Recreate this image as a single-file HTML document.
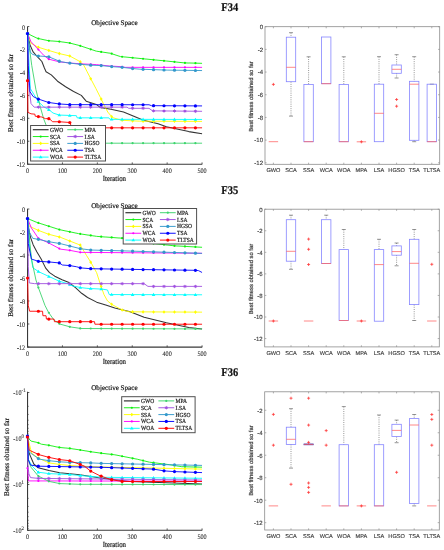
<!DOCTYPE html>
<html><head><meta charset="utf-8"><style>
html,body{margin:0;padding:0;background:#fff;}
body{width:444px;height:550px;overflow:hidden;}
svg{display:block;text-rendering:geometricPrecision;} text{stroke:currentColor;stroke-width:0.18;} text.s{stroke-width:0.14;} text.t{stroke-width:0.1;}
</style></head><body>
<svg width="444" height="550" viewBox="0 0 444 550">
<defs><filter id="bl" x="0" y="0" width="444" height="550" filterUnits="userSpaceOnUse"><feGaussianBlur stdDeviation="0.35"/></filter></defs>
<rect width="444" height="550" fill="#fff"/>
<g filter="url(#bl)">
<path d="M27.55 26.5 L27.55 164.2 L202.25 164.2" fill="none" stroke="#383838" stroke-width="1.1"/>
<line x1="27.55" y1="164.2" x2="27.55" y2="162.39999999999998" stroke="#383838" stroke-width="0.8"/>
<text transform="translate(27.55 173.30) scale(1 1.12)" font-family="Liberation Serif" class="t" font-size="6.2" text-anchor="middle" fill="#333" color="#333">0</text>
<line x1="62.45" y1="164.2" x2="62.45" y2="162.39999999999998" stroke="#383838" stroke-width="0.8"/>
<text transform="translate(62.45 173.30) scale(1 1.12)" font-family="Liberation Serif" class="t" font-size="6.2" text-anchor="middle" fill="#333" color="#333">100</text>
<line x1="97.35" y1="164.2" x2="97.35" y2="162.39999999999998" stroke="#383838" stroke-width="0.8"/>
<text transform="translate(97.35 173.30) scale(1 1.12)" font-family="Liberation Serif" class="t" font-size="6.2" text-anchor="middle" fill="#333" color="#333">200</text>
<line x1="132.25" y1="164.2" x2="132.25" y2="162.39999999999998" stroke="#383838" stroke-width="0.8"/>
<text transform="translate(132.25 173.30) scale(1 1.12)" font-family="Liberation Serif" class="t" font-size="6.2" text-anchor="middle" fill="#333" color="#333">300</text>
<line x1="167.15" y1="164.2" x2="167.15" y2="162.39999999999998" stroke="#383838" stroke-width="0.8"/>
<text transform="translate(167.15 173.30) scale(1 1.12)" font-family="Liberation Serif" class="t" font-size="6.2" text-anchor="middle" fill="#333" color="#333">400</text>
<line x1="202.05" y1="164.2" x2="202.05" y2="162.39999999999998" stroke="#383838" stroke-width="0.8"/>
<text transform="translate(202.05 173.30) scale(1 1.12)" font-family="Liberation Serif" class="t" font-size="6.2" text-anchor="middle" fill="#333" color="#333">500</text>
<line x1="27.55" y1="26.50" x2="29.35" y2="26.50" stroke="#383838" stroke-width="0.8"/>
<text transform="translate(25.2 29.50) scale(1 1.12)" font-family="Liberation Serif" class="t" font-size="6.2" text-anchor="end" fill="#333" color="#333">0</text>
<line x1="27.55" y1="49.45" x2="29.35" y2="49.45" stroke="#383838" stroke-width="0.8"/>
<text transform="translate(25.2 52.45) scale(1 1.12)" font-family="Liberation Serif" class="t" font-size="6.2" text-anchor="end" fill="#333" color="#333">-2</text>
<line x1="27.55" y1="72.40" x2="29.35" y2="72.40" stroke="#383838" stroke-width="0.8"/>
<text transform="translate(25.2 75.40) scale(1 1.12)" font-family="Liberation Serif" class="t" font-size="6.2" text-anchor="end" fill="#333" color="#333">-4</text>
<line x1="27.55" y1="95.35" x2="29.35" y2="95.35" stroke="#383838" stroke-width="0.8"/>
<text transform="translate(25.2 98.35) scale(1 1.12)" font-family="Liberation Serif" class="t" font-size="6.2" text-anchor="end" fill="#333" color="#333">-6</text>
<line x1="27.55" y1="118.30" x2="29.35" y2="118.30" stroke="#383838" stroke-width="0.8"/>
<text transform="translate(25.2 121.30) scale(1 1.12)" font-family="Liberation Serif" class="t" font-size="6.2" text-anchor="end" fill="#333" color="#333">-8</text>
<line x1="27.55" y1="141.25" x2="29.35" y2="141.25" stroke="#383838" stroke-width="0.8"/>
<text transform="translate(25.2 144.25) scale(1 1.12)" font-family="Liberation Serif" class="t" font-size="6.2" text-anchor="end" fill="#333" color="#333">-10</text>
<line x1="27.55" y1="164.20" x2="29.35" y2="164.20" stroke="#383838" stroke-width="0.8"/>
<text transform="translate(25.2 167.20) scale(1 1.12)" font-family="Liberation Serif" class="t" font-size="6.2" text-anchor="end" fill="#333" color="#333">-12</text>
<text transform="translate(114.4 181.10) scale(1 1.12)" font-family="Liberation Serif" font-size="6.9" text-anchor="middle" fill="#222" color="#222">Iteration</text>
<text x="114.4" y="24.80" font-family="Liberation Serif" font-size="7.1" text-anchor="middle" fill="#111" color="#111">Objective Space</text>
<text transform="translate(12.6 93.00) rotate(-90)" font-family="Liberation Serif" font-size="7.2" text-anchor="middle" fill="#222" color="#222">Best fitness obtained so far</text>
<path d="M27.55 33.61 L29.99 44.86 L33.13 51.97 L38.02 57.48 L41.86 61.50 L44.30 67.81 L46.05 71.71 L51.28 74.92 L57.56 81.24 L65.59 86.74 L73.62 91.45 L81.30 95.35 L86.18 101.20 L96.30 104.42 L100.14 107.40 L110.96 109.35 L123.52 112.10 L132.60 115.66 L143.42 120.25 L158.08 123.81 L166.45 126.68 L188.79 131.61 L202.05 133.79" fill="none" stroke="#333333" stroke-width="1.05" stroke-linejoin="round"/>
<path d="M27.55 33.61 L37.32 38.32 L48.49 40.73 L59.31 41.53 L69.78 43.02 L79.90 45.66 L96.30 51.17 L110.26 53.24 L120.38 56.56 L144.12 58.86 L166.45 61.04 L184.25 62.88 L202.05 63.33" fill="none" stroke="#10f010" stroke-width="0.9" stroke-linejoin="round"/><circle cx="27.55" cy="33.61" r="1.1" fill="#10f010"/><circle cx="38.37" cy="38.55" r="1.1" fill="#10f010"/><circle cx="48.84" cy="40.75" r="1.1" fill="#10f010"/><circle cx="59.31" cy="41.53" r="1.1" fill="#10f010"/><circle cx="69.78" cy="43.02" r="1.1" fill="#10f010"/><circle cx="80.25" cy="45.78" r="1.1" fill="#10f010"/><circle cx="90.72" cy="49.30" r="1.1" fill="#10f010"/><circle cx="101.19" cy="51.89" r="1.1" fill="#10f010"/><circle cx="111.66" cy="53.70" r="1.1" fill="#10f010"/><circle cx="122.13" cy="56.73" r="1.1" fill="#10f010"/><circle cx="132.60" cy="57.75" r="1.1" fill="#10f010"/><circle cx="143.07" cy="58.76" r="1.1" fill="#10f010"/><circle cx="153.54" cy="59.78" r="1.1" fill="#10f010"/><circle cx="164.01" cy="60.80" r="1.1" fill="#10f010"/><circle cx="174.48" cy="61.87" r="1.1" fill="#10f010"/><circle cx="184.95" cy="62.89" r="1.1" fill="#10f010"/><circle cx="195.42" cy="63.16" r="1.1" fill="#10f010"/>
<path d="M27.55 33.61 L31.04 43.37 L38.37 47.27 L48.49 50.37 L59.31 53.58 L69.78 55.99 L79.90 61.50 L83.74 65.17 L86.88 71.25 L90.72 78.71 L95.95 88.58 L100.49 97.64 L103.98 104.87 L107.82 112.10 L112.36 117.50 L121.43 120.25 L139.23 121.17 L202.05 121.40" fill="none" stroke="#ffff00" stroke-width="0.9" stroke-linejoin="round"/><path d="M27.55 31.81L28.99 33.61L27.55 35.41L26.11 33.61Z" fill="#ffff00"/><path d="M38.37 45.47L39.81 47.27L38.37 49.07L36.93 47.27Z" fill="#ffff00"/><path d="M48.84 48.67L50.28 50.47L48.84 52.27L47.40 50.47Z" fill="#ffff00"/><path d="M59.31 51.78L60.75 53.58L59.31 55.38L57.87 53.58Z" fill="#ffff00"/><path d="M69.78 54.19L71.22 55.99L69.78 57.79L68.34 55.99Z" fill="#ffff00"/><path d="M80.25 60.03L81.69 61.83L80.25 63.63L78.81 61.83Z" fill="#ffff00"/><path d="M90.72 76.91L92.16 78.71L90.72 80.51L89.28 78.71Z" fill="#ffff00"/><path d="M101.19 97.29L102.63 99.09L101.19 100.89L99.75 99.09Z" fill="#ffff00"/><path d="M111.66 114.87L113.10 116.67L111.66 118.47L110.22 116.67Z" fill="#ffff00"/><path d="M122.13 118.49L123.57 120.29L122.13 122.09L120.69 120.29Z" fill="#ffff00"/><path d="M132.60 119.03L134.04 120.83L132.60 122.63L131.16 120.83Z" fill="#ffff00"/><path d="M143.07 119.38L144.51 121.18L143.07 122.98L141.63 121.18Z" fill="#ffff00"/><path d="M153.54 119.42L154.98 121.22L153.54 123.02L152.10 121.22Z" fill="#ffff00"/><path d="M164.01 119.46L165.45 121.26L164.01 123.06L162.57 121.26Z" fill="#ffff00"/><path d="M174.48 119.50L175.92 121.30L174.48 123.10L173.04 121.30Z" fill="#ffff00"/><path d="M184.95 119.54L186.39 121.34L184.95 123.14L183.51 121.34Z" fill="#ffff00"/><path d="M195.42 119.57L196.86 121.37L195.42 123.17L193.98 121.37Z" fill="#ffff00"/>
<path d="M27.55 33.61 L31.04 41.76 L38.37 49.56 L43.60 55.19 L48.49 59.09 L59.31 61.84 L69.78 62.99 L79.90 63.79 L96.30 64.60 L110.26 66.09 L121.78 66.66 L125.27 67.35 L202.05 67.35" fill="none" stroke="#ff00ff" stroke-width="0.9" stroke-linejoin="round"/><circle cx="27.55" cy="33.61" r="1.1" fill="#ff00ff"/><circle cx="38.37" cy="49.56" r="1.1" fill="#ff00ff"/><circle cx="48.84" cy="59.18" r="1.1" fill="#ff00ff"/><circle cx="59.31" cy="61.84" r="1.1" fill="#ff00ff"/><circle cx="69.78" cy="62.99" r="1.1" fill="#ff00ff"/><circle cx="80.25" cy="63.81" r="1.1" fill="#ff00ff"/><circle cx="90.72" cy="64.32" r="1.1" fill="#ff00ff"/><circle cx="101.19" cy="65.12" r="1.1" fill="#ff00ff"/><circle cx="111.66" cy="66.16" r="1.1" fill="#ff00ff"/><circle cx="122.13" cy="66.73" r="1.1" fill="#ff00ff"/><circle cx="132.60" cy="67.35" r="1.1" fill="#ff00ff"/><circle cx="143.07" cy="67.35" r="1.1" fill="#ff00ff"/><circle cx="153.54" cy="67.35" r="1.1" fill="#ff00ff"/><circle cx="164.01" cy="67.35" r="1.1" fill="#ff00ff"/><circle cx="174.48" cy="67.35" r="1.1" fill="#ff00ff"/><circle cx="184.95" cy="67.35" r="1.1" fill="#ff00ff"/><circle cx="195.42" cy="67.35" r="1.1" fill="#ff00ff"/>
<path d="M27.55 33.61 L30.34 88.58 L34.18 94.89 L38.02 101.20 L43.60 106.71 L49.19 109.92 L53.03 113.02 L59.31 115.09 L76.41 115.66 L77.11 117.84 L108.87 117.84 L109.91 119.33 L202.05 119.45" fill="none" stroke="#00ffff" stroke-width="0.9" stroke-linejoin="round"/><path d="M27.55 31.81L29.35 34.87L25.75 34.87Z" fill="#00ffff"/><path d="M38.37 99.75L40.17 102.81L36.57 102.81Z" fill="#00ffff"/><path d="M48.84 107.92L50.64 110.98L47.04 110.98Z" fill="#00ffff"/><path d="M59.31 113.29L61.11 116.35L57.51 116.35Z" fill="#00ffff"/><path d="M69.78 113.64L71.58 116.70L67.98 116.70Z" fill="#00ffff"/><path d="M80.25 116.04L82.05 119.10L78.45 119.10Z" fill="#00ffff"/><path d="M90.72 116.04L92.52 119.10L88.92 119.10Z" fill="#00ffff"/><path d="M101.19 116.04L102.99 119.10L99.39 119.10Z" fill="#00ffff"/><path d="M111.66 117.53L113.46 120.59L109.86 120.59Z" fill="#00ffff"/><path d="M122.13 117.55L123.93 120.61L120.33 120.61Z" fill="#00ffff"/><path d="M132.60 117.56L134.40 120.62L130.80 120.62Z" fill="#00ffff"/><path d="M143.07 117.57L144.87 120.63L141.27 120.63Z" fill="#00ffff"/><path d="M153.54 117.59L155.34 120.65L151.74 120.65Z" fill="#00ffff"/><path d="M164.01 117.60L165.81 120.66L162.21 120.66Z" fill="#00ffff"/><path d="M174.48 117.61L176.28 120.67L172.68 120.67Z" fill="#00ffff"/><path d="M184.95 117.63L186.75 120.69L183.15 120.69Z" fill="#00ffff"/><path d="M195.42 117.64L197.22 120.70L193.62 120.70Z" fill="#00ffff"/>
<path d="M27.55 33.61 L31.74 65.40 L35.93 89.61 L40.46 107.51 L43.60 118.64 L46.05 124.96 L48.49 135.51 L51.98 142.40 L58.96 143.20 L202.05 143.20" fill="none" stroke="#3cd46c" stroke-width="0.9" stroke-linejoin="round"/><circle cx="27.55" cy="33.61" r="1.1" fill="#3cd46c"/><circle cx="38.37" cy="99.25" r="1.1" fill="#3cd46c"/><circle cx="48.84" cy="136.20" r="1.1" fill="#3cd46c"/><circle cx="59.31" cy="143.20" r="1.1" fill="#3cd46c"/><circle cx="69.78" cy="143.20" r="1.1" fill="#3cd46c"/><circle cx="80.25" cy="143.20" r="1.1" fill="#3cd46c"/><circle cx="90.72" cy="143.20" r="1.1" fill="#3cd46c"/><circle cx="101.19" cy="143.20" r="1.1" fill="#3cd46c"/><circle cx="111.66" cy="143.20" r="1.1" fill="#3cd46c"/><circle cx="122.13" cy="143.20" r="1.1" fill="#3cd46c"/><circle cx="132.60" cy="143.20" r="1.1" fill="#3cd46c"/><circle cx="143.07" cy="143.20" r="1.1" fill="#3cd46c"/><circle cx="153.54" cy="143.20" r="1.1" fill="#3cd46c"/><circle cx="164.01" cy="143.20" r="1.1" fill="#3cd46c"/><circle cx="174.48" cy="143.20" r="1.1" fill="#3cd46c"/><circle cx="184.95" cy="143.20" r="1.1" fill="#3cd46c"/><circle cx="195.42" cy="143.20" r="1.1" fill="#3cd46c"/>
<path d="M27.55 33.61 L28.60 83.88 L31.04 103.61 L34.18 107.17 L127.01 107.17 L128.76 108.32 L149.00 108.32 L152.49 110.84 L202.05 111.30" fill="none" stroke="#a050e0" stroke-width="0.9" stroke-linejoin="round"/><path d="M27.55 31.61 L27.00 32.66 L25.82 32.61 L26.45 33.61 L25.82 34.61 L27.00 34.57 L27.55 35.61 L28.10 34.57 L29.28 34.61 L28.65 33.61 L29.28 32.61 L28.10 32.66Z" fill="#a050e0"/><path d="M38.37 105.17 L37.82 106.22 L36.64 106.17 L37.27 107.17 L36.64 108.17 L37.82 108.12 L38.37 109.17 L38.92 108.12 L40.10 108.17 L39.47 107.17 L40.10 106.17 L38.92 106.22Z" fill="#a050e0"/><path d="M48.84 105.17 L48.29 106.22 L47.11 106.17 L47.74 107.17 L47.11 108.17 L48.29 108.12 L48.84 109.17 L49.39 108.12 L50.57 108.17 L49.94 107.17 L50.57 106.17 L49.39 106.22Z" fill="#a050e0"/><path d="M59.31 105.17 L58.76 106.22 L57.58 106.17 L58.21 107.17 L57.58 108.17 L58.76 108.12 L59.31 109.17 L59.86 108.12 L61.04 108.17 L60.41 107.17 L61.04 106.17 L59.86 106.22Z" fill="#a050e0"/><path d="M69.78 105.17 L69.23 106.22 L68.05 106.17 L68.68 107.17 L68.05 108.17 L69.23 108.12 L69.78 109.17 L70.33 108.12 L71.51 108.17 L70.88 107.17 L71.51 106.17 L70.33 106.22Z" fill="#a050e0"/><path d="M80.25 105.17 L79.70 106.22 L78.52 106.17 L79.15 107.17 L78.52 108.17 L79.70 108.12 L80.25 109.17 L80.80 108.12 L81.98 108.17 L81.35 107.17 L81.98 106.17 L80.80 106.22Z" fill="#a050e0"/><path d="M90.72 105.17 L90.17 106.22 L88.99 106.17 L89.62 107.17 L88.99 108.17 L90.17 108.12 L90.72 109.17 L91.27 108.12 L92.45 108.17 L91.82 107.17 L92.45 106.17 L91.27 106.22Z" fill="#a050e0"/><path d="M101.19 105.17 L100.64 106.22 L99.46 106.17 L100.09 107.17 L99.46 108.17 L100.64 108.12 L101.19 109.17 L101.74 108.12 L102.92 108.17 L102.29 107.17 L102.92 106.17 L101.74 106.22Z" fill="#a050e0"/><path d="M111.66 105.17 L111.11 106.22 L109.93 106.17 L110.56 107.17 L109.93 108.17 L111.11 108.12 L111.66 109.17 L112.21 108.12 L113.39 108.17 L112.76 107.17 L113.39 106.17 L112.21 106.22Z" fill="#a050e0"/><path d="M122.13 105.17 L121.58 106.22 L120.40 106.17 L121.03 107.17 L120.40 108.17 L121.58 108.12 L122.13 109.17 L122.68 108.12 L123.86 108.17 L123.23 107.17 L123.86 106.17 L122.68 106.22Z" fill="#a050e0"/><path d="M132.60 106.32 L132.05 107.36 L130.87 107.32 L131.50 108.32 L130.87 109.32 L132.05 109.27 L132.60 110.32 L133.15 109.27 L134.33 109.32 L133.70 108.32 L134.33 107.32 L133.15 107.36Z" fill="#a050e0"/><path d="M143.07 106.32 L142.52 107.36 L141.34 107.32 L141.97 108.32 L141.34 109.32 L142.52 109.27 L143.07 110.32 L143.62 109.27 L144.80 109.32 L144.17 108.32 L144.80 107.32 L143.62 107.36Z" fill="#a050e0"/><path d="M153.54 108.85 L152.99 109.90 L151.81 109.85 L152.44 110.85 L151.81 111.85 L152.99 111.80 L153.54 112.85 L154.09 111.80 L155.27 111.85 L154.64 110.85 L155.27 109.85 L154.09 109.90Z" fill="#a050e0"/><path d="M164.01 108.95 L163.46 110.00 L162.28 109.95 L162.91 110.95 L162.28 111.95 L163.46 111.90 L164.01 112.95 L164.56 111.90 L165.74 111.95 L165.11 110.95 L165.74 109.95 L164.56 110.00Z" fill="#a050e0"/><path d="M174.48 109.04 L173.93 110.09 L172.75 110.04 L173.38 111.04 L172.75 112.04 L173.93 112.00 L174.48 113.04 L175.03 112.00 L176.21 112.04 L175.58 111.04 L176.21 110.04 L175.03 110.09Z" fill="#a050e0"/><path d="M184.95 109.14 L184.40 110.19 L183.22 110.14 L183.85 111.14 L183.22 112.14 L184.40 112.09 L184.95 113.14 L185.50 112.09 L186.68 112.14 L186.05 111.14 L186.68 110.14 L185.50 110.19Z" fill="#a050e0"/><path d="M195.42 109.24 L194.87 110.29 L193.69 110.24 L194.32 111.24 L193.69 112.24 L194.87 112.19 L195.42 113.24 L195.97 112.19 L197.15 112.24 L196.52 111.24 L197.15 110.24 L195.97 110.29Z" fill="#a050e0"/>
<path d="M27.55 33.61 L30.34 51.97 L32.44 54.38 L38.37 55.99 L48.49 56.68 L60.36 61.61 L68.73 62.99 L79.90 64.25 L90.72 65.17 L101.54 65.63 L112.36 66.66 L122.13 67.35 L132.25 68.50 L139.93 69.19 L167.15 70.10 L202.05 70.56" fill="none" stroke="#3399cc" stroke-width="0.9" stroke-linejoin="round"/><circle cx="27.55" cy="33.61" r="1.6" fill="#3399cc"/><circle cx="38.37" cy="55.99" r="1.6" fill="#3399cc"/><circle cx="48.84" cy="56.82" r="1.6" fill="#3399cc"/><circle cx="59.31" cy="61.18" r="1.6" fill="#3399cc"/><circle cx="69.78" cy="63.11" r="1.6" fill="#3399cc"/><circle cx="80.25" cy="64.28" r="1.6" fill="#3399cc"/><circle cx="90.72" cy="65.17" r="1.6" fill="#3399cc"/><circle cx="101.19" cy="65.61" r="1.6" fill="#3399cc"/><circle cx="111.66" cy="66.60" r="1.6" fill="#3399cc"/><circle cx="122.13" cy="67.35" r="1.6" fill="#3399cc"/><circle cx="132.60" cy="68.53" r="1.6" fill="#3399cc"/><circle cx="143.07" cy="69.29" r="1.6" fill="#3399cc"/><circle cx="153.54" cy="69.65" r="1.6" fill="#3399cc"/><circle cx="164.01" cy="70.00" r="1.6" fill="#3399cc"/><circle cx="174.48" cy="70.20" r="1.6" fill="#3399cc"/><circle cx="184.95" cy="70.34" r="1.6" fill="#3399cc"/><circle cx="195.42" cy="70.48" r="1.6" fill="#3399cc"/>
<path d="M27.55 33.61 L28.25 65.40 L29.99 91.79 L33.13 96.50 L38.02 98.91 L48.49 102.46 L59.31 103.96 L69.78 104.64 L149.00 104.76 L151.44 105.68 L202.05 105.91" fill="none" stroke="#0000ff" stroke-width="0.9" stroke-linejoin="round"/><circle cx="27.55" cy="33.61" r="1.6" fill="#0000ff"/><circle cx="38.37" cy="99.03" r="1.6" fill="#0000ff"/><circle cx="48.84" cy="102.51" r="1.6" fill="#0000ff"/><circle cx="59.31" cy="103.96" r="1.6" fill="#0000ff"/><circle cx="69.78" cy="104.64" r="1.6" fill="#0000ff"/><circle cx="80.25" cy="104.66" r="1.6" fill="#0000ff"/><circle cx="90.72" cy="104.68" r="1.6" fill="#0000ff"/><circle cx="101.19" cy="104.69" r="1.6" fill="#0000ff"/><circle cx="111.66" cy="104.71" r="1.6" fill="#0000ff"/><circle cx="122.13" cy="104.72" r="1.6" fill="#0000ff"/><circle cx="132.60" cy="104.74" r="1.6" fill="#0000ff"/><circle cx="143.07" cy="104.75" r="1.6" fill="#0000ff"/><circle cx="153.54" cy="105.69" r="1.6" fill="#0000ff"/><circle cx="164.01" cy="105.73" r="1.6" fill="#0000ff"/><circle cx="174.48" cy="105.78" r="1.6" fill="#0000ff"/><circle cx="184.95" cy="105.83" r="1.6" fill="#0000ff"/><circle cx="195.42" cy="105.88" r="1.6" fill="#0000ff"/>
<path d="M27.55 80.66 L27.90 112.33 L31.04 113.82 L34.88 114.17 L35.23 116.23 L41.86 117.04 L45.35 118.64 L49.19 118.64 L52.68 121.74 L59.31 121.74 L70.48 122.55 L70.83 127.82 L202.05 127.82" fill="none" stroke="#ff0000" stroke-width="0.9" stroke-linejoin="round"/><circle cx="27.55" cy="80.66" r="1.6" fill="#ff0000"/><circle cx="38.37" cy="116.61" r="1.6" fill="#ff0000"/><circle cx="48.84" cy="118.64" r="1.6" fill="#ff0000"/><circle cx="59.31" cy="121.74" r="1.6" fill="#ff0000"/><circle cx="69.78" cy="122.50" r="1.6" fill="#ff0000"/><circle cx="80.25" cy="127.82" r="1.6" fill="#ff0000"/><circle cx="90.72" cy="127.82" r="1.6" fill="#ff0000"/><circle cx="101.19" cy="127.82" r="1.6" fill="#ff0000"/><circle cx="111.66" cy="127.82" r="1.6" fill="#ff0000"/><circle cx="122.13" cy="127.82" r="1.6" fill="#ff0000"/><circle cx="132.60" cy="127.82" r="1.6" fill="#ff0000"/><circle cx="143.07" cy="127.82" r="1.6" fill="#ff0000"/><circle cx="153.54" cy="127.82" r="1.6" fill="#ff0000"/><circle cx="164.01" cy="127.82" r="1.6" fill="#ff0000"/><circle cx="174.48" cy="127.82" r="1.6" fill="#ff0000"/><circle cx="184.95" cy="127.82" r="1.6" fill="#ff0000"/><circle cx="195.42" cy="127.82" r="1.6" fill="#ff0000"/>
<rect x="30.6" y="125.5" width="74.9" height="35.5" fill="#fff" stroke="#505050" stroke-width="1.0"/>
<line x1="32.80" y1="129.70" x2="48.60" y2="129.70" stroke="#333333" stroke-width="1.2"/>

<text transform="translate(49.90 131.70) scale(1 1.12)" font-family="Liberation Serif" font-size="5.55" fill="#222" color="#222">GWO</text>
<line x1="32.80" y1="136.55" x2="48.60" y2="136.55" stroke="#10f010" stroke-width="0.95"/>
<circle cx="40.70" cy="136.55" r="1.1" fill="#10f010"/>
<text transform="translate(49.90 138.55) scale(1 1.12)" font-family="Liberation Serif" font-size="5.55" fill="#222" color="#222">SCA</text>
<line x1="32.80" y1="143.40" x2="48.60" y2="143.40" stroke="#ffff00" stroke-width="0.95"/>
<path d="M40.70 141.60L42.14 143.40L40.70 145.20L39.26 143.40Z" fill="#ffff00"/>
<text transform="translate(49.90 145.40) scale(1 1.12)" font-family="Liberation Serif" font-size="5.55" fill="#222" color="#222">SSA</text>
<line x1="32.80" y1="150.25" x2="48.60" y2="150.25" stroke="#ff00ff" stroke-width="0.95"/>
<circle cx="40.70" cy="150.25" r="1.1" fill="#ff00ff"/>
<text transform="translate(49.90 152.25) scale(1 1.12)" font-family="Liberation Serif" font-size="5.55" fill="#222" color="#222">WCA</text>
<line x1="32.80" y1="157.10" x2="48.60" y2="157.10" stroke="#00ffff" stroke-width="0.95"/>
<path d="M40.70 155.30L42.50 158.36L38.90 158.36Z" fill="#00ffff"/>
<text transform="translate(49.90 159.10) scale(1 1.12)" font-family="Liberation Serif" font-size="5.55" fill="#222" color="#222">WOA</text>
<line x1="67.30" y1="129.70" x2="83.10" y2="129.70" stroke="#3cd46c" stroke-width="0.95"/>
<circle cx="75.20" cy="129.70" r="1.1" fill="#3cd46c"/>
<text transform="translate(84.40 131.70) scale(1 1.12)" font-family="Liberation Serif" font-size="5.55" fill="#222" color="#222">MPA</text>
<line x1="67.30" y1="136.55" x2="83.10" y2="136.55" stroke="#a050e0" stroke-width="0.95"/>
<path d="M75.20 134.55 L74.65 135.60 L73.47 135.55 L74.10 136.55 L73.47 137.55 L74.65 137.50 L75.20 138.55 L75.75 137.50 L76.93 137.55 L76.30 136.55 L76.93 135.55 L75.75 135.60Z" fill="#a050e0"/>
<text transform="translate(84.40 138.55) scale(1 1.12)" font-family="Liberation Serif" font-size="5.55" fill="#222" color="#222">LSA</text>
<line x1="67.30" y1="143.40" x2="83.10" y2="143.40" stroke="#3399cc" stroke-width="0.95"/>
<circle cx="75.20" cy="143.40" r="1.6" fill="#3399cc"/>
<text transform="translate(84.40 145.40) scale(1 1.12)" font-family="Liberation Serif" font-size="5.55" fill="#222" color="#222">HGSO</text>
<line x1="67.30" y1="150.25" x2="83.10" y2="150.25" stroke="#0000ff" stroke-width="0.95"/>
<circle cx="75.20" cy="150.25" r="1.6" fill="#0000ff"/>
<text transform="translate(84.40 152.25) scale(1 1.12)" font-family="Liberation Serif" font-size="5.55" fill="#222" color="#222">TSA</text>
<line x1="67.30" y1="157.10" x2="83.10" y2="157.10" stroke="#ff0000" stroke-width="0.95"/>
<circle cx="75.20" cy="157.10" r="1.6" fill="#ff0000"/>
<text transform="translate(84.40 159.10) scale(1 1.12)" font-family="Liberation Serif" font-size="5.55" fill="#222" color="#222">TLTSA</text>
<path d="M27.55 208.8 L27.55 347.1 L202.25 347.1" fill="none" stroke="#383838" stroke-width="1.1"/>
<line x1="27.55" y1="347.1" x2="27.55" y2="345.3" stroke="#383838" stroke-width="0.8"/>
<text transform="translate(27.55 356.20) scale(1 1.12)" font-family="Liberation Serif" class="t" font-size="6.2" text-anchor="middle" fill="#333" color="#333">0</text>
<line x1="62.45" y1="347.1" x2="62.45" y2="345.3" stroke="#383838" stroke-width="0.8"/>
<text transform="translate(62.45 356.20) scale(1 1.12)" font-family="Liberation Serif" class="t" font-size="6.2" text-anchor="middle" fill="#333" color="#333">100</text>
<line x1="97.35" y1="347.1" x2="97.35" y2="345.3" stroke="#383838" stroke-width="0.8"/>
<text transform="translate(97.35 356.20) scale(1 1.12)" font-family="Liberation Serif" class="t" font-size="6.2" text-anchor="middle" fill="#333" color="#333">200</text>
<line x1="132.25" y1="347.1" x2="132.25" y2="345.3" stroke="#383838" stroke-width="0.8"/>
<text transform="translate(132.25 356.20) scale(1 1.12)" font-family="Liberation Serif" class="t" font-size="6.2" text-anchor="middle" fill="#333" color="#333">300</text>
<line x1="167.15" y1="347.1" x2="167.15" y2="345.3" stroke="#383838" stroke-width="0.8"/>
<text transform="translate(167.15 356.20) scale(1 1.12)" font-family="Liberation Serif" class="t" font-size="6.2" text-anchor="middle" fill="#333" color="#333">400</text>
<line x1="202.05" y1="347.1" x2="202.05" y2="345.3" stroke="#383838" stroke-width="0.8"/>
<text transform="translate(202.05 356.20) scale(1 1.12)" font-family="Liberation Serif" class="t" font-size="6.2" text-anchor="middle" fill="#333" color="#333">500</text>
<line x1="27.55" y1="209.00" x2="29.35" y2="209.00" stroke="#383838" stroke-width="0.8"/>
<text transform="translate(25.2 212.00) scale(1 1.12)" font-family="Liberation Serif" class="t" font-size="6.2" text-anchor="end" fill="#333" color="#333">0</text>
<line x1="27.55" y1="232.00" x2="29.35" y2="232.00" stroke="#383838" stroke-width="0.8"/>
<text transform="translate(25.2 235.00) scale(1 1.12)" font-family="Liberation Serif" class="t" font-size="6.2" text-anchor="end" fill="#333" color="#333">-2</text>
<line x1="27.55" y1="255.00" x2="29.35" y2="255.00" stroke="#383838" stroke-width="0.8"/>
<text transform="translate(25.2 258.00) scale(1 1.12)" font-family="Liberation Serif" class="t" font-size="6.2" text-anchor="end" fill="#333" color="#333">-4</text>
<line x1="27.55" y1="278.00" x2="29.35" y2="278.00" stroke="#383838" stroke-width="0.8"/>
<text transform="translate(25.2 281.00) scale(1 1.12)" font-family="Liberation Serif" class="t" font-size="6.2" text-anchor="end" fill="#333" color="#333">-6</text>
<line x1="27.55" y1="301.00" x2="29.35" y2="301.00" stroke="#383838" stroke-width="0.8"/>
<text transform="translate(25.2 304.00) scale(1 1.12)" font-family="Liberation Serif" class="t" font-size="6.2" text-anchor="end" fill="#333" color="#333">-8</text>
<line x1="27.55" y1="324.00" x2="29.35" y2="324.00" stroke="#383838" stroke-width="0.8"/>
<text transform="translate(25.2 327.00) scale(1 1.12)" font-family="Liberation Serif" class="t" font-size="6.2" text-anchor="end" fill="#333" color="#333">-10</text>
<line x1="27.55" y1="347.00" x2="29.35" y2="347.00" stroke="#383838" stroke-width="0.8"/>
<text transform="translate(25.2 350.00) scale(1 1.12)" font-family="Liberation Serif" class="t" font-size="6.2" text-anchor="end" fill="#333" color="#333">-12</text>
<text transform="translate(114.4 364.00) scale(1 1.12)" font-family="Liberation Serif" font-size="6.9" text-anchor="middle" fill="#222" color="#222">Iteration</text>
<text x="114.4" y="207.60" font-family="Liberation Serif" font-size="7.1" text-anchor="middle" fill="#111" color="#111">Objective Space</text>
<text transform="translate(12.6 277.95) rotate(-90)" font-family="Liberation Serif" font-size="7.2" text-anchor="middle" fill="#222" color="#222">Best fitness obtained so far</text>
<path d="M27.55 218.54 L28.60 228.55 L30.52 237.41 L33.13 244.65 L36.80 251.78 L41.16 259.02 L45.70 268.11 L49.54 272.60 L54.77 276.16 L62.10 279.84 L68.38 282.14 L74.66 286.97 L81.64 293.30 L87.58 297.55 L96.65 302.15 L105.73 305.02 L114.80 307.90 L130.16 311.81 L144.12 317.33 L166.45 322.85 L188.79 327.45 L202.05 328.94" fill="none" stroke="#333333" stroke-width="1.05" stroke-linejoin="round"/>
<path d="M27.55 218.54 L36.97 222.45 L59.66 229.70 L78.50 233.61 L96.65 236.37 L122.13 238.21 L142.72 242.35 L174.13 245.80 L202.05 247.30" fill="none" stroke="#10f010" stroke-width="0.9" stroke-linejoin="round"/><circle cx="27.55" cy="218.54" r="1.1" fill="#10f010"/><circle cx="38.37" cy="222.90" r="1.1" fill="#10f010"/><circle cx="48.84" cy="226.24" r="1.1" fill="#10f010"/><circle cx="59.31" cy="229.59" r="1.1" fill="#10f010"/><circle cx="69.78" cy="231.80" r="1.1" fill="#10f010"/><circle cx="80.25" cy="233.88" r="1.1" fill="#10f010"/><circle cx="90.72" cy="235.47" r="1.1" fill="#10f010"/><circle cx="101.19" cy="236.70" r="1.1" fill="#10f010"/><circle cx="111.66" cy="237.45" r="1.1" fill="#10f010"/><circle cx="122.13" cy="238.21" r="1.1" fill="#10f010"/><circle cx="132.60" cy="240.32" r="1.1" fill="#10f010"/><circle cx="143.07" cy="242.39" r="1.1" fill="#10f010"/><circle cx="153.54" cy="243.54" r="1.1" fill="#10f010"/><circle cx="164.01" cy="244.69" r="1.1" fill="#10f010"/><circle cx="174.48" cy="245.82" r="1.1" fill="#10f010"/><circle cx="184.95" cy="246.38" r="1.1" fill="#10f010"/><circle cx="195.42" cy="246.94" r="1.1" fill="#10f010"/>
<path d="M27.55 218.54 L29.30 226.25 L38.37 230.39 L48.49 234.19 L60.36 237.29 L69.43 240.85 L80.25 245.11 L86.53 255.46 L91.07 262.70 L96.65 272.71 L100.14 283.63 L103.98 294.56 L107.47 300.88 L112.01 304.56 L122.13 309.97 L129.11 311.81 L202.05 312.15" fill="none" stroke="#ffff00" stroke-width="0.9" stroke-linejoin="round"/><path d="M27.55 216.74L28.99 218.54L27.55 220.34L26.11 218.54Z" fill="#ffff00"/><path d="M38.37 228.59L39.81 230.39L38.37 232.19L36.93 230.39Z" fill="#ffff00"/><path d="M48.84 232.48L50.28 234.28L48.84 236.08L47.40 234.28Z" fill="#ffff00"/><path d="M59.31 235.22L60.75 237.02L59.31 238.82L57.87 237.02Z" fill="#ffff00"/><path d="M69.78 239.19L71.22 240.99L69.78 242.79L68.34 240.99Z" fill="#ffff00"/><path d="M80.25 243.31L81.69 245.11L80.25 246.91L78.81 245.11Z" fill="#ffff00"/><path d="M90.72 260.35L92.16 262.15L90.72 263.95L89.28 262.15Z" fill="#ffff00"/><path d="M101.19 284.81L102.63 286.61L101.19 288.41L99.75 286.61Z" fill="#ffff00"/><path d="M111.66 302.48L113.10 304.28L111.66 306.08L110.22 304.28Z" fill="#ffff00"/><path d="M122.13 308.17L123.57 309.97L122.13 311.77L120.69 309.97Z" fill="#ffff00"/><path d="M132.60 310.03L134.04 311.83L132.60 313.63L131.16 311.83Z" fill="#ffff00"/><path d="M143.07 310.08L144.51 311.88L143.07 313.68L141.63 311.88Z" fill="#ffff00"/><path d="M153.54 310.13L154.98 311.93L153.54 313.73L152.10 311.93Z" fill="#ffff00"/><path d="M164.01 310.18L165.45 311.98L164.01 313.78L162.57 311.98Z" fill="#ffff00"/><path d="M174.48 310.22L175.92 312.02L174.48 313.82L173.04 312.02Z" fill="#ffff00"/><path d="M184.95 310.27L186.39 312.07L184.95 313.87L183.51 312.07Z" fill="#ffff00"/><path d="M195.42 310.32L196.86 312.12L195.42 313.92L193.98 312.12Z" fill="#ffff00"/>
<path d="M27.55 218.54 L31.39 227.97 L38.37 238.32 L48.49 242.81 L60.36 249.13 L70.13 250.40 L80.25 252.35 L202.05 253.28" fill="none" stroke="#ff00ff" stroke-width="0.9" stroke-linejoin="round"/><circle cx="27.55" cy="218.54" r="1.1" fill="#ff00ff"/><circle cx="38.37" cy="238.32" r="1.1" fill="#ff00ff"/><circle cx="48.84" cy="243.00" r="1.1" fill="#ff00ff"/><circle cx="59.31" cy="248.58" r="1.1" fill="#ff00ff"/><circle cx="69.78" cy="250.35" r="1.1" fill="#ff00ff"/><circle cx="80.25" cy="252.35" r="1.1" fill="#ff00ff"/><circle cx="90.72" cy="252.43" r="1.1" fill="#ff00ff"/><circle cx="101.19" cy="252.51" r="1.1" fill="#ff00ff"/><circle cx="111.66" cy="252.59" r="1.1" fill="#ff00ff"/><circle cx="122.13" cy="252.67" r="1.1" fill="#ff00ff"/><circle cx="132.60" cy="252.75" r="1.1" fill="#ff00ff"/><circle cx="143.07" cy="252.83" r="1.1" fill="#ff00ff"/><circle cx="153.54" cy="252.91" r="1.1" fill="#ff00ff"/><circle cx="164.01" cy="252.99" r="1.1" fill="#ff00ff"/><circle cx="174.48" cy="253.07" r="1.1" fill="#ff00ff"/><circle cx="184.95" cy="253.15" r="1.1" fill="#ff00ff"/><circle cx="195.42" cy="253.22" r="1.1" fill="#ff00ff"/>
<path d="M27.55 218.54 L29.30 243.50 L32.78 267.65 L38.37 271.56 L48.49 276.27 L59.31 281.22 L68.38 283.87 L72.92 286.05 L80.60 287.55 L86.88 288.35 L102.58 289.15 L107.47 289.96 L109.22 294.56 L202.05 294.79" fill="none" stroke="#00ffff" stroke-width="0.9" stroke-linejoin="round"/><path d="M27.55 216.74L29.35 219.80L25.75 219.80Z" fill="#00ffff"/><path d="M38.37 269.76L40.17 272.82L36.57 272.82Z" fill="#00ffff"/><path d="M48.84 274.63L50.64 277.69L47.04 277.69Z" fill="#00ffff"/><path d="M59.31 279.42L61.11 282.48L57.51 282.48Z" fill="#00ffff"/><path d="M69.78 282.74L71.58 285.80L67.98 285.80Z" fill="#00ffff"/><path d="M80.25 285.68L82.05 288.74L78.45 288.74Z" fill="#00ffff"/><path d="M90.72 286.75L92.52 289.81L88.92 289.81Z" fill="#00ffff"/><path d="M101.19 287.28L102.99 290.34L99.39 290.34Z" fill="#00ffff"/><path d="M111.66 292.77L113.46 295.83L109.86 295.83Z" fill="#00ffff"/><path d="M122.13 292.79L123.93 295.85L120.33 295.85Z" fill="#00ffff"/><path d="M132.60 292.82L134.40 295.88L130.80 295.88Z" fill="#00ffff"/><path d="M143.07 292.84L144.87 295.90L141.27 295.90Z" fill="#00ffff"/><path d="M153.54 292.87L155.34 295.93L151.74 295.93Z" fill="#00ffff"/><path d="M164.01 292.90L165.81 295.96L162.21 295.96Z" fill="#00ffff"/><path d="M174.48 292.92L176.28 295.98L172.68 295.98Z" fill="#00ffff"/><path d="M184.95 292.95L186.75 296.01L183.15 296.01Z" fill="#00ffff"/><path d="M195.42 292.97L197.22 296.03L193.62 296.03Z" fill="#00ffff"/>
<path d="M27.55 218.54 L31.39 258.56 L35.93 279.95 L38.37 287.55 L45.00 305.49 L48.49 312.27 L54.07 320.20 L59.66 324.00 L70.13 326.88 L80.95 328.49 L202.05 328.94" fill="none" stroke="#3cd46c" stroke-width="0.9" stroke-linejoin="round"/><circle cx="27.55" cy="218.54" r="1.1" fill="#3cd46c"/><circle cx="38.37" cy="287.55" r="1.1" fill="#3cd46c"/><circle cx="48.84" cy="312.77" r="1.1" fill="#3cd46c"/><circle cx="59.31" cy="323.76" r="1.1" fill="#3cd46c"/><circle cx="69.78" cy="326.78" r="1.1" fill="#3cd46c"/><circle cx="80.25" cy="328.38" r="1.1" fill="#3cd46c"/><circle cx="90.72" cy="328.52" r="1.1" fill="#3cd46c"/><circle cx="101.19" cy="328.56" r="1.1" fill="#3cd46c"/><circle cx="111.66" cy="328.60" r="1.1" fill="#3cd46c"/><circle cx="122.13" cy="328.64" r="1.1" fill="#3cd46c"/><circle cx="132.60" cy="328.68" r="1.1" fill="#3cd46c"/><circle cx="143.07" cy="328.72" r="1.1" fill="#3cd46c"/><circle cx="153.54" cy="328.76" r="1.1" fill="#3cd46c"/><circle cx="164.01" cy="328.80" r="1.1" fill="#3cd46c"/><circle cx="174.48" cy="328.84" r="1.1" fill="#3cd46c"/><circle cx="184.95" cy="328.88" r="1.1" fill="#3cd46c"/><circle cx="195.42" cy="328.92" r="1.1" fill="#3cd46c"/>
<path d="M27.55 218.54 L28.25 266.50 L29.30 282.94 L34.53 283.63 L144.12 283.63 L147.95 286.39 L202.05 286.39" fill="none" stroke="#a050e0" stroke-width="0.9" stroke-linejoin="round"/><path d="M27.55 216.54 L27.00 217.59 L25.82 217.54 L26.45 218.54 L25.82 219.54 L27.00 219.50 L27.55 220.54 L28.10 219.50 L29.28 219.54 L28.65 218.54 L29.28 217.54 L28.10 217.59Z" fill="#a050e0"/><path d="M38.37 281.63 L37.82 282.68 L36.64 282.63 L37.27 283.63 L36.64 284.63 L37.82 284.59 L38.37 285.63 L38.92 284.59 L40.10 284.63 L39.47 283.63 L40.10 282.63 L38.92 282.68Z" fill="#a050e0"/><path d="M48.84 281.63 L48.29 282.68 L47.11 282.63 L47.74 283.63 L47.11 284.63 L48.29 284.59 L48.84 285.63 L49.39 284.59 L50.57 284.63 L49.94 283.63 L50.57 282.63 L49.39 282.68Z" fill="#a050e0"/><path d="M59.31 281.63 L58.76 282.68 L57.58 282.63 L58.21 283.63 L57.58 284.63 L58.76 284.59 L59.31 285.63 L59.86 284.59 L61.04 284.63 L60.41 283.63 L61.04 282.63 L59.86 282.68Z" fill="#a050e0"/><path d="M69.78 281.63 L69.23 282.68 L68.05 282.63 L68.68 283.63 L68.05 284.63 L69.23 284.59 L69.78 285.63 L70.33 284.59 L71.51 284.63 L70.88 283.63 L71.51 282.63 L70.33 282.68Z" fill="#a050e0"/><path d="M80.25 281.63 L79.70 282.68 L78.52 282.63 L79.15 283.63 L78.52 284.63 L79.70 284.59 L80.25 285.63 L80.80 284.59 L81.98 284.63 L81.35 283.63 L81.98 282.63 L80.80 282.68Z" fill="#a050e0"/><path d="M90.72 281.63 L90.17 282.68 L88.99 282.63 L89.62 283.63 L88.99 284.63 L90.17 284.59 L90.72 285.63 L91.27 284.59 L92.45 284.63 L91.82 283.63 L92.45 282.63 L91.27 282.68Z" fill="#a050e0"/><path d="M101.19 281.63 L100.64 282.68 L99.46 282.63 L100.09 283.63 L99.46 284.63 L100.64 284.59 L101.19 285.63 L101.74 284.59 L102.92 284.63 L102.29 283.63 L102.92 282.63 L101.74 282.68Z" fill="#a050e0"/><path d="M111.66 281.63 L111.11 282.68 L109.93 282.63 L110.56 283.63 L109.93 284.63 L111.11 284.59 L111.66 285.63 L112.21 284.59 L113.39 284.63 L112.76 283.63 L113.39 282.63 L112.21 282.68Z" fill="#a050e0"/><path d="M122.13 281.63 L121.58 282.68 L120.40 282.63 L121.03 283.63 L120.40 284.63 L121.58 284.59 L122.13 285.63 L122.68 284.59 L123.86 284.63 L123.23 283.63 L123.86 282.63 L122.68 282.68Z" fill="#a050e0"/><path d="M132.60 281.63 L132.05 282.68 L130.87 282.63 L131.50 283.63 L130.87 284.63 L132.05 284.59 L132.60 285.63 L133.15 284.59 L134.33 284.63 L133.70 283.63 L134.33 282.63 L133.15 282.68Z" fill="#a050e0"/><path d="M143.07 281.63 L142.52 282.68 L141.34 282.63 L141.97 283.63 L141.34 284.63 L142.52 284.59 L143.07 285.63 L143.62 284.59 L144.80 284.63 L144.17 283.63 L144.80 282.63 L143.62 282.68Z" fill="#a050e0"/><path d="M153.54 284.39 L152.99 285.44 L151.81 285.39 L152.44 286.39 L151.81 287.39 L152.99 287.35 L153.54 288.39 L154.09 287.35 L155.27 287.39 L154.64 286.39 L155.27 285.39 L154.09 285.44Z" fill="#a050e0"/><path d="M164.01 284.39 L163.46 285.44 L162.28 285.39 L162.91 286.39 L162.28 287.39 L163.46 287.35 L164.01 288.39 L164.56 287.35 L165.74 287.39 L165.11 286.39 L165.74 285.39 L164.56 285.44Z" fill="#a050e0"/><path d="M174.48 284.39 L173.93 285.44 L172.75 285.39 L173.38 286.39 L172.75 287.39 L173.93 287.35 L174.48 288.39 L175.03 287.35 L176.21 287.39 L175.58 286.39 L176.21 285.39 L175.03 285.44Z" fill="#a050e0"/><path d="M184.95 284.39 L184.40 285.44 L183.22 285.39 L183.85 286.39 L183.22 287.39 L184.40 287.35 L184.95 288.39 L185.50 287.35 L186.68 287.39 L186.05 286.39 L186.68 285.39 L185.50 285.44Z" fill="#a050e0"/><path d="M195.42 284.39 L194.87 285.44 L193.69 285.39 L194.32 286.39 L193.69 287.39 L194.87 287.35 L195.42 288.39 L195.97 287.35 L197.15 287.39 L196.52 286.39 L197.15 285.39 L195.97 285.44Z" fill="#a050e0"/>
<path d="M27.55 218.54 L29.30 232.00 L32.78 238.32 L38.37 239.36 L48.49 241.66 L60.36 243.62 L80.25 248.68 L91.07 250.06 L120.03 250.75 L202.05 253.39" fill="none" stroke="#3399cc" stroke-width="0.9" stroke-linejoin="round"/><circle cx="27.55" cy="218.54" r="1.6" fill="#3399cc"/><circle cx="38.37" cy="239.36" r="1.6" fill="#3399cc"/><circle cx="48.84" cy="241.72" r="1.6" fill="#3399cc"/><circle cx="59.31" cy="243.44" r="1.6" fill="#3399cc"/><circle cx="69.78" cy="246.01" r="1.6" fill="#3399cc"/><circle cx="80.25" cy="248.68" r="1.6" fill="#3399cc"/><circle cx="90.72" cy="250.01" r="1.6" fill="#3399cc"/><circle cx="101.19" cy="250.30" r="1.6" fill="#3399cc"/><circle cx="111.66" cy="250.55" r="1.6" fill="#3399cc"/><circle cx="122.13" cy="250.81" r="1.6" fill="#3399cc"/><circle cx="132.60" cy="251.15" r="1.6" fill="#3399cc"/><circle cx="143.07" cy="251.49" r="1.6" fill="#3399cc"/><circle cx="153.54" cy="251.83" r="1.6" fill="#3399cc"/><circle cx="164.01" cy="252.16" r="1.6" fill="#3399cc"/><circle cx="174.48" cy="252.50" r="1.6" fill="#3399cc"/><circle cx="184.95" cy="252.84" r="1.6" fill="#3399cc"/><circle cx="195.42" cy="253.18" r="1.6" fill="#3399cc"/>
<path d="M27.55 218.54 L28.25 243.50 L31.39 259.02 L38.37 261.32 L48.49 261.90 L59.31 262.94 L62.45 265.00 L69.78 265.58 L76.41 266.73 L80.60 267.88 L90.37 268.69 L132.25 269.38 L195.42 270.30 L198.56 270.64 L202.05 272.48" fill="none" stroke="#0000ff" stroke-width="0.9" stroke-linejoin="round"/><circle cx="27.55" cy="218.54" r="1.6" fill="#0000ff"/><circle cx="38.37" cy="261.32" r="1.6" fill="#0000ff"/><circle cx="48.84" cy="261.93" r="1.6" fill="#0000ff"/><circle cx="59.31" cy="262.94" r="1.6" fill="#0000ff"/><circle cx="69.78" cy="265.58" r="1.6" fill="#0000ff"/><circle cx="80.25" cy="267.78" r="1.6" fill="#0000ff"/><circle cx="90.72" cy="268.69" r="1.6" fill="#0000ff"/><circle cx="101.19" cy="268.86" r="1.6" fill="#0000ff"/><circle cx="111.66" cy="269.04" r="1.6" fill="#0000ff"/><circle cx="122.13" cy="269.21" r="1.6" fill="#0000ff"/><circle cx="132.60" cy="269.38" r="1.6" fill="#0000ff"/><circle cx="143.07" cy="269.53" r="1.6" fill="#0000ff"/><circle cx="153.54" cy="269.69" r="1.6" fill="#0000ff"/><circle cx="164.01" cy="269.84" r="1.6" fill="#0000ff"/><circle cx="174.48" cy="269.99" r="1.6" fill="#0000ff"/><circle cx="184.95" cy="270.14" r="1.6" fill="#0000ff"/><circle cx="195.42" cy="270.30" r="1.6" fill="#0000ff"/>
<path d="M27.55 278.00 L28.25 305.49 L29.64 311.24 L42.56 311.24 L42.91 315.72 L46.05 315.72 L46.40 319.06 L54.07 319.06 L54.42 321.70 L94.56 321.70 L94.91 324.23 L202.05 324.23" fill="none" stroke="#ff0000" stroke-width="0.9" stroke-linejoin="round"/><circle cx="27.55" cy="278.00" r="1.6" fill="#ff0000"/><circle cx="38.37" cy="311.24" r="1.6" fill="#ff0000"/><circle cx="48.84" cy="319.06" r="1.6" fill="#ff0000"/><circle cx="59.31" cy="321.70" r="1.6" fill="#ff0000"/><circle cx="69.78" cy="321.70" r="1.6" fill="#ff0000"/><circle cx="80.25" cy="321.70" r="1.6" fill="#ff0000"/><circle cx="90.72" cy="321.70" r="1.6" fill="#ff0000"/><circle cx="101.19" cy="324.23" r="1.6" fill="#ff0000"/><circle cx="111.66" cy="324.23" r="1.6" fill="#ff0000"/><circle cx="122.13" cy="324.23" r="1.6" fill="#ff0000"/><circle cx="132.60" cy="324.23" r="1.6" fill="#ff0000"/><circle cx="143.07" cy="324.23" r="1.6" fill="#ff0000"/><circle cx="153.54" cy="324.23" r="1.6" fill="#ff0000"/><circle cx="164.01" cy="324.23" r="1.6" fill="#ff0000"/><circle cx="174.48" cy="324.23" r="1.6" fill="#ff0000"/><circle cx="184.95" cy="324.23" r="1.6" fill="#ff0000"/><circle cx="195.42" cy="324.23" r="1.6" fill="#ff0000"/>
<rect x="123.2" y="208.5" width="73.39999999999999" height="35.5" fill="#fff" stroke="#505050" stroke-width="1.0"/>
<line x1="125.40" y1="212.70" x2="141.20" y2="212.70" stroke="#333333" stroke-width="1.2"/>

<text transform="translate(142.50 214.70) scale(1 1.12)" font-family="Liberation Serif" font-size="5.55" fill="#222" color="#222">GWO</text>
<line x1="125.40" y1="219.55" x2="141.20" y2="219.55" stroke="#10f010" stroke-width="0.95"/>
<circle cx="133.30" cy="219.55" r="1.1" fill="#10f010"/>
<text transform="translate(142.50 221.55) scale(1 1.12)" font-family="Liberation Serif" font-size="5.55" fill="#222" color="#222">SCA</text>
<line x1="125.40" y1="226.40" x2="141.20" y2="226.40" stroke="#ffff00" stroke-width="0.95"/>
<path d="M133.30 224.60L134.74 226.40L133.30 228.20L131.86 226.40Z" fill="#ffff00"/>
<text transform="translate(142.50 228.40) scale(1 1.12)" font-family="Liberation Serif" font-size="5.55" fill="#222" color="#222">SSA</text>
<line x1="125.40" y1="233.25" x2="141.20" y2="233.25" stroke="#ff00ff" stroke-width="0.95"/>
<circle cx="133.30" cy="233.25" r="1.1" fill="#ff00ff"/>
<text transform="translate(142.50 235.25) scale(1 1.12)" font-family="Liberation Serif" font-size="5.55" fill="#222" color="#222">WCA</text>
<line x1="125.40" y1="240.10" x2="141.20" y2="240.10" stroke="#00ffff" stroke-width="0.95"/>
<path d="M133.30 238.30L135.10 241.36L131.50 241.36Z" fill="#00ffff"/>
<text transform="translate(142.50 242.10) scale(1 1.12)" font-family="Liberation Serif" font-size="5.55" fill="#222" color="#222">WOA</text>
<line x1="159.90" y1="212.70" x2="175.70" y2="212.70" stroke="#3cd46c" stroke-width="0.95"/>
<circle cx="167.80" cy="212.70" r="1.1" fill="#3cd46c"/>
<text transform="translate(177.00 214.70) scale(1 1.12)" font-family="Liberation Serif" font-size="5.55" fill="#222" color="#222">MPA</text>
<line x1="159.90" y1="219.55" x2="175.70" y2="219.55" stroke="#a050e0" stroke-width="0.95"/>
<path d="M167.80 217.55 L167.25 218.60 L166.07 218.55 L166.70 219.55 L166.07 220.55 L167.25 220.50 L167.80 221.55 L168.35 220.50 L169.53 220.55 L168.90 219.55 L169.53 218.55 L168.35 218.60Z" fill="#a050e0"/>
<text transform="translate(177.00 221.55) scale(1 1.12)" font-family="Liberation Serif" font-size="5.55" fill="#222" color="#222">LSA</text>
<line x1="159.90" y1="226.40" x2="175.70" y2="226.40" stroke="#3399cc" stroke-width="0.95"/>
<circle cx="167.80" cy="226.40" r="1.6" fill="#3399cc"/>
<text transform="translate(177.00 228.40) scale(1 1.12)" font-family="Liberation Serif" font-size="5.55" fill="#222" color="#222">HGSO</text>
<line x1="159.90" y1="233.25" x2="175.70" y2="233.25" stroke="#0000ff" stroke-width="0.95"/>
<circle cx="167.80" cy="233.25" r="1.6" fill="#0000ff"/>
<text transform="translate(177.00 235.25) scale(1 1.12)" font-family="Liberation Serif" font-size="5.55" fill="#222" color="#222">TSA</text>
<line x1="159.90" y1="240.10" x2="175.70" y2="240.10" stroke="#ff0000" stroke-width="0.95"/>
<circle cx="167.80" cy="240.10" r="1.6" fill="#ff0000"/>
<text transform="translate(177.00 242.10) scale(1 1.12)" font-family="Liberation Serif" font-size="5.55" fill="#222" color="#222">TLTSA</text>
<path d="M27.55 391.8 L27.55 530.2 L202.25 530.2" fill="none" stroke="#383838" stroke-width="1.1"/>
<line x1="27.55" y1="530.2" x2="27.55" y2="528.4000000000001" stroke="#383838" stroke-width="0.8"/>
<text transform="translate(27.55 539.30) scale(1 1.12)" font-family="Liberation Serif" class="t" font-size="6.2" text-anchor="middle" fill="#333" color="#333">0</text>
<line x1="62.45" y1="530.2" x2="62.45" y2="528.4000000000001" stroke="#383838" stroke-width="0.8"/>
<text transform="translate(62.45 539.30) scale(1 1.12)" font-family="Liberation Serif" class="t" font-size="6.2" text-anchor="middle" fill="#333" color="#333">100</text>
<line x1="97.35" y1="530.2" x2="97.35" y2="528.4000000000001" stroke="#383838" stroke-width="0.8"/>
<text transform="translate(97.35 539.30) scale(1 1.12)" font-family="Liberation Serif" class="t" font-size="6.2" text-anchor="middle" fill="#333" color="#333">200</text>
<line x1="132.25" y1="530.2" x2="132.25" y2="528.4000000000001" stroke="#383838" stroke-width="0.8"/>
<text transform="translate(132.25 539.30) scale(1 1.12)" font-family="Liberation Serif" class="t" font-size="6.2" text-anchor="middle" fill="#333" color="#333">300</text>
<line x1="167.15" y1="530.2" x2="167.15" y2="528.4000000000001" stroke="#383838" stroke-width="0.8"/>
<text transform="translate(167.15 539.30) scale(1 1.12)" font-family="Liberation Serif" class="t" font-size="6.2" text-anchor="middle" fill="#333" color="#333">400</text>
<line x1="202.05" y1="530.2" x2="202.05" y2="528.4000000000001" stroke="#383838" stroke-width="0.8"/>
<text transform="translate(202.05 539.30) scale(1 1.12)" font-family="Liberation Serif" class="t" font-size="6.2" text-anchor="middle" fill="#333" color="#333">500</text>
<line x1="27.55" y1="392.50" x2="29.35" y2="392.50" stroke="#383838" stroke-width="0.8"/>
<line x1="27.55" y1="406.35" x2="28.55" y2="406.35" stroke="#383838" stroke-width="0.8"/>
<line x1="27.55" y1="414.45" x2="28.55" y2="414.45" stroke="#383838" stroke-width="0.8"/>
<line x1="27.55" y1="420.19" x2="28.55" y2="420.19" stroke="#383838" stroke-width="0.8"/>
<line x1="27.55" y1="424.65" x2="28.55" y2="424.65" stroke="#383838" stroke-width="0.8"/>
<line x1="27.55" y1="428.29" x2="28.55" y2="428.29" stroke="#383838" stroke-width="0.8"/>
<line x1="27.55" y1="431.37" x2="28.55" y2="431.37" stroke="#383838" stroke-width="0.8"/>
<line x1="27.55" y1="434.04" x2="28.55" y2="434.04" stroke="#383838" stroke-width="0.8"/>
<line x1="27.55" y1="436.40" x2="28.55" y2="436.40" stroke="#383838" stroke-width="0.8"/>
<line x1="27.55" y1="438.50" x2="29.35" y2="438.50" stroke="#383838" stroke-width="0.8"/>
<line x1="27.55" y1="452.35" x2="28.55" y2="452.35" stroke="#383838" stroke-width="0.8"/>
<line x1="27.55" y1="460.45" x2="28.55" y2="460.45" stroke="#383838" stroke-width="0.8"/>
<line x1="27.55" y1="466.19" x2="28.55" y2="466.19" stroke="#383838" stroke-width="0.8"/>
<line x1="27.55" y1="470.65" x2="28.55" y2="470.65" stroke="#383838" stroke-width="0.8"/>
<line x1="27.55" y1="474.29" x2="28.55" y2="474.29" stroke="#383838" stroke-width="0.8"/>
<line x1="27.55" y1="477.37" x2="28.55" y2="477.37" stroke="#383838" stroke-width="0.8"/>
<line x1="27.55" y1="480.04" x2="28.55" y2="480.04" stroke="#383838" stroke-width="0.8"/>
<line x1="27.55" y1="482.40" x2="28.55" y2="482.40" stroke="#383838" stroke-width="0.8"/>
<line x1="27.55" y1="484.50" x2="29.35" y2="484.50" stroke="#383838" stroke-width="0.8"/>
<line x1="27.55" y1="498.35" x2="28.55" y2="498.35" stroke="#383838" stroke-width="0.8"/>
<line x1="27.55" y1="506.45" x2="28.55" y2="506.45" stroke="#383838" stroke-width="0.8"/>
<line x1="27.55" y1="512.19" x2="28.55" y2="512.19" stroke="#383838" stroke-width="0.8"/>
<line x1="27.55" y1="516.65" x2="28.55" y2="516.65" stroke="#383838" stroke-width="0.8"/>
<line x1="27.55" y1="520.29" x2="28.55" y2="520.29" stroke="#383838" stroke-width="0.8"/>
<line x1="27.55" y1="523.37" x2="28.55" y2="523.37" stroke="#383838" stroke-width="0.8"/>
<line x1="27.55" y1="526.04" x2="28.55" y2="526.04" stroke="#383838" stroke-width="0.8"/>
<line x1="27.55" y1="528.40" x2="28.55" y2="528.40" stroke="#383838" stroke-width="0.8"/>
<line x1="27.55" y1="530.50" x2="29.35" y2="530.50" stroke="#383838" stroke-width="0.8"/>
<text transform="translate(114.4 547.10) scale(1 1.12)" font-family="Liberation Serif" font-size="6.9" text-anchor="middle" fill="#222" color="#222">Iteration</text>
<text x="114.4" y="390.00" font-family="Liberation Serif" font-size="7.1" text-anchor="middle" fill="#111" color="#111">Objective Space</text>
<text transform="translate(9.1 457.00) rotate(-90)" font-family="Liberation Serif" font-size="7.2" text-anchor="middle" fill="#222" color="#222">Best fitness obtained so far</text>
<path d="M27.50 437.00 L27.80 449.80 L30.50 456.40 L33.80 464.00 L38.20 467.80 L49.00 470.50 L59.80 472.70 L79.70 474.80 L102.00 478.20 L130.00 481.50 L202.00 484.00" fill="none" stroke="#333333" stroke-width="1.05" stroke-linejoin="round"/>
<path d="M27.50 436.00 L28.60 438.50 L31.10 441.10 L38.20 442.70 L41.40 444.20 L49.00 445.30 L58.90 447.40 L69.70 448.40 L79.70 449.90 L90.50 451.70 L102.00 453.30 L114.90 454.80 L137.20 459.20 L149.60 462.20 L169.40 464.70 L181.80 466.70 L202.00 467.20" fill="none" stroke="#10f010" stroke-width="0.9" stroke-linejoin="round"/><circle cx="27.50" cy="436.00" r="1.1" fill="#10f010"/><circle cx="38.37" cy="442.78" r="1.1" fill="#10f010"/><circle cx="48.84" cy="445.28" r="1.1" fill="#10f010"/><circle cx="59.31" cy="447.44" r="1.1" fill="#10f010"/><circle cx="69.78" cy="448.41" r="1.1" fill="#10f010"/><circle cx="80.25" cy="449.99" r="1.1" fill="#10f010"/><circle cx="90.72" cy="451.73" r="1.1" fill="#10f010"/><circle cx="101.19" cy="453.19" r="1.1" fill="#10f010"/><circle cx="111.66" cy="454.42" r="1.1" fill="#10f010"/><circle cx="122.13" cy="456.23" r="1.1" fill="#10f010"/><circle cx="132.60" cy="458.29" r="1.1" fill="#10f010"/><circle cx="143.07" cy="460.62" r="1.1" fill="#10f010"/><circle cx="153.54" cy="462.70" r="1.1" fill="#10f010"/><circle cx="164.01" cy="464.02" r="1.1" fill="#10f010"/><circle cx="174.48" cy="465.52" r="1.1" fill="#10f010"/><circle cx="184.95" cy="466.78" r="1.1" fill="#10f010"/><circle cx="195.42" cy="467.04" r="1.1" fill="#10f010"/>
<path d="M27.50 437.00 L28.90 442.20 L31.60 453.10 L38.20 458.00 L49.00 462.90 L59.80 464.50 L69.70 465.50 L79.70 466.10 L102.00 467.00 L202.00 469.10" fill="none" stroke="#ffff00" stroke-width="0.9" stroke-linejoin="round"/><path d="M27.50 435.20L28.94 437.00L27.50 438.80L26.06 437.00Z" fill="#ffff00"/><path d="M38.37 456.28L39.81 458.08L38.37 459.88L36.93 458.08Z" fill="#ffff00"/><path d="M48.84 461.03L50.28 462.83L48.84 464.63L47.40 462.83Z" fill="#ffff00"/><path d="M59.31 462.63L60.75 464.43L59.31 466.23L57.87 464.43Z" fill="#ffff00"/><path d="M69.78 463.70L71.22 465.50L69.78 467.30L68.34 465.50Z" fill="#ffff00"/><path d="M80.25 464.32L81.69 466.12L80.25 467.92L78.81 466.12Z" fill="#ffff00"/><path d="M90.72 464.74L92.16 466.54L90.72 468.34L89.28 466.54Z" fill="#ffff00"/><path d="M101.19 465.17L102.63 466.97L101.19 468.77L99.75 466.97Z" fill="#ffff00"/><path d="M111.66 465.40L113.10 467.20L111.66 469.00L110.22 467.20Z" fill="#ffff00"/><path d="M122.13 465.62L123.57 467.42L122.13 469.22L120.69 467.42Z" fill="#ffff00"/><path d="M132.60 465.84L134.04 467.64L132.60 469.44L131.16 467.64Z" fill="#ffff00"/><path d="M143.07 466.06L144.51 467.86L143.07 469.66L141.63 467.86Z" fill="#ffff00"/><path d="M153.54 466.28L154.98 468.08L153.54 469.88L152.10 468.08Z" fill="#ffff00"/><path d="M164.01 466.50L165.45 468.30L164.01 470.10L162.57 468.30Z" fill="#ffff00"/><path d="M174.48 466.72L175.92 468.52L174.48 470.32L173.04 468.52Z" fill="#ffff00"/><path d="M184.95 466.94L186.39 468.74L184.95 470.54L183.51 468.74Z" fill="#ffff00"/><path d="M195.42 467.16L196.86 468.96L195.42 470.76L193.98 468.96Z" fill="#ffff00"/>
<path d="M27.50 468.20 L28.50 480.90 L202.00 481.20" fill="none" stroke="#ff00ff" stroke-width="0.9" stroke-linejoin="round"/><circle cx="27.50" cy="468.20" r="1.1" fill="#ff00ff"/><circle cx="38.37" cy="480.92" r="1.1" fill="#ff00ff"/><circle cx="48.84" cy="480.94" r="1.1" fill="#ff00ff"/><circle cx="59.31" cy="480.95" r="1.1" fill="#ff00ff"/><circle cx="69.78" cy="480.97" r="1.1" fill="#ff00ff"/><circle cx="80.25" cy="480.99" r="1.1" fill="#ff00ff"/><circle cx="90.72" cy="481.01" r="1.1" fill="#ff00ff"/><circle cx="101.19" cy="481.03" r="1.1" fill="#ff00ff"/><circle cx="111.66" cy="481.04" r="1.1" fill="#ff00ff"/><circle cx="122.13" cy="481.06" r="1.1" fill="#ff00ff"/><circle cx="132.60" cy="481.08" r="1.1" fill="#ff00ff"/><circle cx="143.07" cy="481.10" r="1.1" fill="#ff00ff"/><circle cx="153.54" cy="481.12" r="1.1" fill="#ff00ff"/><circle cx="164.01" cy="481.13" r="1.1" fill="#ff00ff"/><circle cx="174.48" cy="481.15" r="1.1" fill="#ff00ff"/><circle cx="184.95" cy="481.17" r="1.1" fill="#ff00ff"/><circle cx="195.42" cy="481.19" r="1.1" fill="#ff00ff"/>
<path d="M27.50 437.00 L28.40 459.60 L32.20 466.20 L38.20 472.20 L49.00 473.60 L59.80 474.10 L69.70 474.50 L79.70 475.50 L102.00 477.30 L202.00 478.30" fill="none" stroke="#00ffff" stroke-width="0.9" stroke-linejoin="round"/><path d="M27.50 435.20L29.30 438.26L25.70 438.26Z" fill="#00ffff"/><path d="M38.37 470.42L40.17 473.48L36.57 473.48Z" fill="#00ffff"/><path d="M48.84 471.78L50.64 474.84L47.04 474.84Z" fill="#00ffff"/><path d="M59.31 472.28L61.11 475.34L57.51 475.34Z" fill="#00ffff"/><path d="M69.78 472.71L71.58 475.77L67.98 475.77Z" fill="#00ffff"/><path d="M80.25 473.74L82.05 476.80L78.45 476.80Z" fill="#00ffff"/><path d="M90.72 474.59L92.52 477.65L88.92 477.65Z" fill="#00ffff"/><path d="M101.19 475.43L102.99 478.49L99.39 478.49Z" fill="#00ffff"/><path d="M111.66 475.60L113.46 478.66L109.86 478.66Z" fill="#00ffff"/><path d="M122.13 475.70L123.93 478.76L120.33 478.76Z" fill="#00ffff"/><path d="M132.60 475.81L134.40 478.87L130.80 478.87Z" fill="#00ffff"/><path d="M143.07 475.91L144.87 478.97L141.27 478.97Z" fill="#00ffff"/><path d="M153.54 476.02L155.34 479.08L151.74 479.08Z" fill="#00ffff"/><path d="M164.01 476.12L165.81 479.18L162.21 479.18Z" fill="#00ffff"/><path d="M174.48 476.22L176.28 479.28L172.68 479.28Z" fill="#00ffff"/><path d="M184.95 476.33L186.75 479.39L183.15 479.39Z" fill="#00ffff"/><path d="M195.42 476.43L197.22 479.49L193.62 479.49Z" fill="#00ffff"/>
<path d="M27.50 437.00 L28.40 460.70 L31.10 467.30 L38.20 476.00 L49.00 481.40 L59.80 483.60 L79.70 484.30 L202.00 484.60" fill="none" stroke="#3cd46c" stroke-width="0.9" stroke-linejoin="round"/><circle cx="27.50" cy="437.00" r="1.1" fill="#3cd46c"/><circle cx="38.37" cy="476.08" r="1.1" fill="#3cd46c"/><circle cx="48.84" cy="481.32" r="1.1" fill="#3cd46c"/><circle cx="59.31" cy="483.50" r="1.1" fill="#3cd46c"/><circle cx="69.78" cy="483.95" r="1.1" fill="#3cd46c"/><circle cx="80.25" cy="484.30" r="1.1" fill="#3cd46c"/><circle cx="90.72" cy="484.33" r="1.1" fill="#3cd46c"/><circle cx="101.19" cy="484.35" r="1.1" fill="#3cd46c"/><circle cx="111.66" cy="484.38" r="1.1" fill="#3cd46c"/><circle cx="122.13" cy="484.40" r="1.1" fill="#3cd46c"/><circle cx="132.60" cy="484.43" r="1.1" fill="#3cd46c"/><circle cx="143.07" cy="484.46" r="1.1" fill="#3cd46c"/><circle cx="153.54" cy="484.48" r="1.1" fill="#3cd46c"/><circle cx="164.01" cy="484.51" r="1.1" fill="#3cd46c"/><circle cx="174.48" cy="484.53" r="1.1" fill="#3cd46c"/><circle cx="184.95" cy="484.56" r="1.1" fill="#3cd46c"/><circle cx="195.42" cy="484.58" r="1.1" fill="#3cd46c"/>
<path d="M27.50 437.00 L27.80 465.10 L28.90 473.80 L30.50 477.60 L38.20 478.40 L102.00 479.00 L202.00 480.00" fill="none" stroke="#a050e0" stroke-width="0.9" stroke-linejoin="round"/><path d="M27.50 435.00 L26.95 436.05 L25.77 436.00 L26.40 437.00 L25.77 438.00 L26.95 437.95 L27.50 439.00 L28.05 437.95 L29.23 438.00 L28.60 437.00 L29.23 436.00 L28.05 436.05Z" fill="#a050e0"/><path d="M38.37 476.40 L37.82 477.45 L36.64 477.40 L37.27 478.40 L36.64 479.40 L37.82 479.35 L38.37 480.40 L38.92 479.35 L40.10 479.40 L39.47 478.40 L40.10 477.40 L38.92 477.45Z" fill="#a050e0"/><path d="M48.84 476.50 L48.29 477.55 L47.11 477.50 L47.74 478.50 L47.11 479.50 L48.29 479.45 L48.84 480.50 L49.39 479.45 L50.57 479.50 L49.94 478.50 L50.57 477.50 L49.39 477.55Z" fill="#a050e0"/><path d="M59.31 476.60 L58.76 477.65 L57.58 477.60 L58.21 478.60 L57.58 479.60 L58.76 479.55 L59.31 480.60 L59.86 479.55 L61.04 479.60 L60.41 478.60 L61.04 477.60 L59.86 477.65Z" fill="#a050e0"/><path d="M69.78 476.70 L69.23 477.74 L68.05 477.70 L68.68 478.70 L68.05 479.70 L69.23 479.65 L69.78 480.70 L70.33 479.65 L71.51 479.70 L70.88 478.70 L71.51 477.70 L70.33 477.74Z" fill="#a050e0"/><path d="M80.25 476.80 L79.70 477.84 L78.52 477.80 L79.15 478.80 L78.52 479.80 L79.70 479.75 L80.25 480.80 L80.80 479.75 L81.98 479.80 L81.35 478.80 L81.98 477.80 L80.80 477.84Z" fill="#a050e0"/><path d="M90.72 476.89 L90.17 477.94 L88.99 477.89 L89.62 478.89 L88.99 479.89 L90.17 479.85 L90.72 480.89 L91.27 479.85 L92.45 479.89 L91.82 478.89 L92.45 477.89 L91.27 477.94Z" fill="#a050e0"/><path d="M101.19 476.99 L100.64 478.04 L99.46 477.99 L100.09 478.99 L99.46 479.99 L100.64 479.95 L101.19 480.99 L101.74 479.95 L102.92 479.99 L102.29 478.99 L102.92 477.99 L101.74 478.04Z" fill="#a050e0"/><path d="M111.66 477.10 L111.11 478.14 L109.93 478.10 L110.56 479.10 L109.93 480.10 L111.11 480.05 L111.66 481.10 L112.21 480.05 L113.39 480.10 L112.76 479.10 L113.39 478.10 L112.21 478.14Z" fill="#a050e0"/><path d="M122.13 477.20 L121.58 478.25 L120.40 478.20 L121.03 479.20 L120.40 480.20 L121.58 480.15 L122.13 481.20 L122.68 480.15 L123.86 480.20 L123.23 479.20 L123.86 478.20 L122.68 478.25Z" fill="#a050e0"/><path d="M132.60 477.31 L132.05 478.35 L130.87 478.31 L131.50 479.31 L130.87 480.31 L132.05 480.26 L132.60 481.31 L133.15 480.26 L134.33 480.31 L133.70 479.31 L134.33 478.31 L133.15 478.35Z" fill="#a050e0"/><path d="M143.07 477.41 L142.52 478.46 L141.34 478.41 L141.97 479.41 L141.34 480.41 L142.52 480.36 L143.07 481.41 L143.62 480.36 L144.80 480.41 L144.17 479.41 L144.80 478.41 L143.62 478.46Z" fill="#a050e0"/><path d="M153.54 477.52 L152.99 478.56 L151.81 478.52 L152.44 479.52 L151.81 480.52 L152.99 480.47 L153.54 481.52 L154.09 480.47 L155.27 480.52 L154.64 479.52 L155.27 478.52 L154.09 478.56Z" fill="#a050e0"/><path d="M164.01 477.62 L163.46 478.67 L162.28 478.62 L162.91 479.62 L162.28 480.62 L163.46 480.57 L164.01 481.62 L164.56 480.57 L165.74 480.62 L165.11 479.62 L165.74 478.62 L164.56 478.67Z" fill="#a050e0"/><path d="M174.48 477.72 L173.93 478.77 L172.75 478.72 L173.38 479.72 L172.75 480.72 L173.93 480.68 L174.48 481.72 L175.03 480.68 L176.21 480.72 L175.58 479.72 L176.21 478.72 L175.03 478.77Z" fill="#a050e0"/><path d="M184.95 477.83 L184.40 478.88 L183.22 478.83 L183.85 479.83 L183.22 480.83 L184.40 480.78 L184.95 481.83 L185.50 480.78 L186.68 480.83 L186.05 479.83 L186.68 478.83 L185.50 478.88Z" fill="#a050e0"/><path d="M195.42 477.93 L194.87 478.98 L193.69 478.93 L194.32 479.93 L193.69 480.93 L194.87 480.89 L195.42 481.93 L195.97 480.89 L197.15 480.93 L196.52 479.93 L197.15 478.93 L195.97 478.98Z" fill="#a050e0"/>
<path d="M27.50 436.00 L29.20 452.00 L39.10 459.10 L49.00 460.70 L59.80 461.80 L69.70 462.40 L79.70 462.70 L90.50 462.90 L102.00 463.40 L202.00 465.40" fill="none" stroke="#3399cc" stroke-width="0.9" stroke-linejoin="round"/><circle cx="27.50" cy="436.00" r="1.6" fill="#3399cc"/><circle cx="38.37" cy="458.58" r="1.6" fill="#3399cc"/><circle cx="48.84" cy="460.67" r="1.6" fill="#3399cc"/><circle cx="59.31" cy="461.75" r="1.6" fill="#3399cc"/><circle cx="69.78" cy="462.40" r="1.6" fill="#3399cc"/><circle cx="80.25" cy="462.71" r="1.6" fill="#3399cc"/><circle cx="90.72" cy="462.91" r="1.6" fill="#3399cc"/><circle cx="101.19" cy="463.36" r="1.6" fill="#3399cc"/><circle cx="111.66" cy="463.59" r="1.6" fill="#3399cc"/><circle cx="122.13" cy="463.80" r="1.6" fill="#3399cc"/><circle cx="132.60" cy="464.01" r="1.6" fill="#3399cc"/><circle cx="143.07" cy="464.22" r="1.6" fill="#3399cc"/><circle cx="153.54" cy="464.43" r="1.6" fill="#3399cc"/><circle cx="164.01" cy="464.64" r="1.6" fill="#3399cc"/><circle cx="174.48" cy="464.85" r="1.6" fill="#3399cc"/><circle cx="184.95" cy="465.06" r="1.6" fill="#3399cc"/><circle cx="195.42" cy="465.27" r="1.6" fill="#3399cc"/>
<path d="M27.50 436.00 L28.30 459.60 L30.50 465.10 L38.20 466.20 L102.00 467.30 L153.30 469.10 L164.40 470.90 L174.30 471.60 L202.00 472.60" fill="none" stroke="#0000ff" stroke-width="0.9" stroke-linejoin="round"/><circle cx="27.50" cy="436.00" r="1.6" fill="#0000ff"/><circle cx="38.37" cy="466.20" r="1.6" fill="#0000ff"/><circle cx="48.84" cy="466.38" r="1.6" fill="#0000ff"/><circle cx="59.31" cy="466.56" r="1.6" fill="#0000ff"/><circle cx="69.78" cy="466.74" r="1.6" fill="#0000ff"/><circle cx="80.25" cy="466.92" r="1.6" fill="#0000ff"/><circle cx="90.72" cy="467.11" r="1.6" fill="#0000ff"/><circle cx="101.19" cy="467.29" r="1.6" fill="#0000ff"/><circle cx="111.66" cy="467.64" r="1.6" fill="#0000ff"/><circle cx="122.13" cy="468.01" r="1.6" fill="#0000ff"/><circle cx="132.60" cy="468.37" r="1.6" fill="#0000ff"/><circle cx="143.07" cy="468.74" r="1.6" fill="#0000ff"/><circle cx="153.54" cy="469.14" r="1.6" fill="#0000ff"/><circle cx="164.01" cy="470.84" r="1.6" fill="#0000ff"/><circle cx="174.48" cy="471.61" r="1.6" fill="#0000ff"/><circle cx="184.95" cy="471.98" r="1.6" fill="#0000ff"/><circle cx="195.42" cy="472.36" r="1.6" fill="#0000ff"/>
<path d="M27.50 437.00 L29.20 450.20 L39.10 454.70 L49.00 457.40 L59.80 459.60 L69.70 460.70 L79.70 464.30 L84.20 466.00 L90.50 471.00 L100.00 475.80 L111.00 479.60 L122.30 481.50 L202.00 481.50" fill="none" stroke="#ff0000" stroke-width="0.9" stroke-linejoin="round"/><circle cx="27.50" cy="437.00" r="1.6" fill="#ff0000"/><circle cx="38.37" cy="454.37" r="1.6" fill="#ff0000"/><circle cx="48.84" cy="457.36" r="1.6" fill="#ff0000"/><circle cx="59.31" cy="459.50" r="1.6" fill="#ff0000"/><circle cx="69.78" cy="460.73" r="1.6" fill="#ff0000"/><circle cx="80.25" cy="464.51" r="1.6" fill="#ff0000"/><circle cx="90.72" cy="471.11" r="1.6" fill="#ff0000"/><circle cx="101.19" cy="476.21" r="1.6" fill="#ff0000"/><circle cx="111.66" cy="479.71" r="1.6" fill="#ff0000"/><circle cx="122.13" cy="481.47" r="1.6" fill="#ff0000"/><circle cx="132.60" cy="481.50" r="1.6" fill="#ff0000"/><circle cx="143.07" cy="481.50" r="1.6" fill="#ff0000"/><circle cx="153.54" cy="481.50" r="1.6" fill="#ff0000"/><circle cx="164.01" cy="481.50" r="1.6" fill="#ff0000"/><circle cx="174.48" cy="481.50" r="1.6" fill="#ff0000"/><circle cx="184.95" cy="481.50" r="1.6" fill="#ff0000"/><circle cx="195.42" cy="481.50" r="1.6" fill="#ff0000"/>
<rect x="121.7" y="396.7" width="73.39999999999999" height="36.0" fill="#fff" stroke="#505050" stroke-width="1.0"/>
<line x1="123.90" y1="400.90" x2="139.70" y2="400.90" stroke="#333333" stroke-width="1.2"/>

<text transform="translate(141.00 402.90) scale(1 1.12)" font-family="Liberation Serif" font-size="5.55" fill="#222" color="#222">GWO</text>
<line x1="123.90" y1="407.75" x2="139.70" y2="407.75" stroke="#10f010" stroke-width="0.95"/>
<circle cx="131.80" cy="407.75" r="1.1" fill="#10f010"/>
<text transform="translate(141.00 409.75) scale(1 1.12)" font-family="Liberation Serif" font-size="5.55" fill="#222" color="#222">SCA</text>
<line x1="123.90" y1="414.60" x2="139.70" y2="414.60" stroke="#ffff00" stroke-width="0.95"/>
<path d="M131.80 412.80L133.24 414.60L131.80 416.40L130.36 414.60Z" fill="#ffff00"/>
<text transform="translate(141.00 416.60) scale(1 1.12)" font-family="Liberation Serif" font-size="5.55" fill="#222" color="#222">SSA</text>
<line x1="123.90" y1="421.45" x2="139.70" y2="421.45" stroke="#ff00ff" stroke-width="0.95"/>
<circle cx="131.80" cy="421.45" r="1.1" fill="#ff00ff"/>
<text transform="translate(141.00 423.45) scale(1 1.12)" font-family="Liberation Serif" font-size="5.55" fill="#222" color="#222">WCA</text>
<line x1="123.90" y1="428.30" x2="139.70" y2="428.30" stroke="#00ffff" stroke-width="0.95"/>
<path d="M131.80 426.50L133.60 429.56L130.00 429.56Z" fill="#00ffff"/>
<text transform="translate(141.00 430.30) scale(1 1.12)" font-family="Liberation Serif" font-size="5.55" fill="#222" color="#222">WOA</text>
<line x1="158.40" y1="400.90" x2="174.20" y2="400.90" stroke="#3cd46c" stroke-width="0.95"/>
<circle cx="166.30" cy="400.90" r="1.1" fill="#3cd46c"/>
<text transform="translate(175.50 402.90) scale(1 1.12)" font-family="Liberation Serif" font-size="5.55" fill="#222" color="#222">MPA</text>
<line x1="158.40" y1="407.75" x2="174.20" y2="407.75" stroke="#a050e0" stroke-width="0.95"/>
<path d="M166.30 405.75 L165.75 406.80 L164.57 406.75 L165.20 407.75 L164.57 408.75 L165.75 408.70 L166.30 409.75 L166.85 408.70 L168.03 408.75 L167.40 407.75 L168.03 406.75 L166.85 406.80Z" fill="#a050e0"/>
<text transform="translate(175.50 409.75) scale(1 1.12)" font-family="Liberation Serif" font-size="5.55" fill="#222" color="#222">LSA</text>
<line x1="158.40" y1="414.60" x2="174.20" y2="414.60" stroke="#3399cc" stroke-width="0.95"/>
<circle cx="166.30" cy="414.60" r="1.6" fill="#3399cc"/>
<text transform="translate(175.50 416.60) scale(1 1.12)" font-family="Liberation Serif" font-size="5.55" fill="#222" color="#222">HGSO</text>
<line x1="158.40" y1="421.45" x2="174.20" y2="421.45" stroke="#0000ff" stroke-width="0.95"/>
<circle cx="166.30" cy="421.45" r="1.6" fill="#0000ff"/>
<text transform="translate(175.50 423.45) scale(1 1.12)" font-family="Liberation Serif" font-size="5.55" fill="#222" color="#222">TSA</text>
<line x1="158.40" y1="428.30" x2="174.20" y2="428.30" stroke="#ff0000" stroke-width="0.95"/>
<circle cx="166.30" cy="428.30" r="1.6" fill="#ff0000"/>
<text transform="translate(175.50 430.30) scale(1 1.12)" font-family="Liberation Serif" font-size="5.55" fill="#222" color="#222">TLTSA</text>
<text transform="translate(21.5 394.80) scale(1 1.12)" font-family="Liberation Serif" class="t" font-size="6.2" text-anchor="end" fill="#333" color="#333">-10</text>
<text transform="translate(21.6 392.10) scale(1 1.12)" font-family="Liberation Serif" class="t" font-size="4.8" fill="#333" color="#333">-1</text>
<text transform="translate(21.5 440.80) scale(1 1.12)" font-family="Liberation Serif" class="t" font-size="6.2" text-anchor="end" fill="#333" color="#333">-10</text>
<text transform="translate(21.6 438.10) scale(1 1.12)" font-family="Liberation Serif" class="t" font-size="4.8" fill="#333" color="#333">0</text>
<text transform="translate(21.5 486.80) scale(1 1.12)" font-family="Liberation Serif" class="t" font-size="6.2" text-anchor="end" fill="#333" color="#333">-10</text>
<text transform="translate(21.6 484.10) scale(1 1.12)" font-family="Liberation Serif" class="t" font-size="4.8" fill="#333" color="#333">1</text>
<text transform="translate(21.5 532.80) scale(1 1.12)" font-family="Liberation Serif" class="t" font-size="6.2" text-anchor="end" fill="#333" color="#333">-10</text>
<text transform="translate(21.6 530.10) scale(1 1.12)" font-family="Liberation Serif" class="t" font-size="4.8" fill="#333" color="#333">2</text>
<text transform="translate(229.8 11.20) scale(1 1.12)" font-family="Liberation Serif" font-weight="bold" font-size="10.5" text-anchor="middle" fill="#111" color="#111">F34</text>
<rect x="265.0" y="26.7" width="174.70" height="137.60" fill="none" stroke="#8c8c8c" stroke-width="0.8"/>
<line x1="273.40" y1="164.3" x2="273.40" y2="162.70000000000002" stroke="#8c8c8c" stroke-width="0.7"/>
<line x1="273.40" y1="26.7" x2="273.40" y2="28.3" stroke="#8c8c8c" stroke-width="0.7"/>
<text x="273.40" y="171.90" font-family="Liberation Sans" class="s" font-size="5.6" text-anchor="middle" fill="#404040" color="#404040">GWO</text>
<line x1="291.00" y1="164.3" x2="291.00" y2="162.70000000000002" stroke="#8c8c8c" stroke-width="0.7"/>
<line x1="291.00" y1="26.7" x2="291.00" y2="28.3" stroke="#8c8c8c" stroke-width="0.7"/>
<text x="291.00" y="171.90" font-family="Liberation Sans" class="s" font-size="5.6" text-anchor="middle" fill="#404040" color="#404040">SCA</text>
<line x1="308.60" y1="164.3" x2="308.60" y2="162.70000000000002" stroke="#8c8c8c" stroke-width="0.7"/>
<line x1="308.60" y1="26.7" x2="308.60" y2="28.3" stroke="#8c8c8c" stroke-width="0.7"/>
<text x="308.60" y="171.90" font-family="Liberation Sans" class="s" font-size="5.6" text-anchor="middle" fill="#404040" color="#404040">SSA</text>
<line x1="326.20" y1="164.3" x2="326.20" y2="162.70000000000002" stroke="#8c8c8c" stroke-width="0.7"/>
<line x1="326.20" y1="26.7" x2="326.20" y2="28.3" stroke="#8c8c8c" stroke-width="0.7"/>
<text x="326.20" y="171.90" font-family="Liberation Sans" class="s" font-size="5.6" text-anchor="middle" fill="#404040" color="#404040">WCA</text>
<line x1="343.80" y1="164.3" x2="343.80" y2="162.70000000000002" stroke="#8c8c8c" stroke-width="0.7"/>
<line x1="343.80" y1="26.7" x2="343.80" y2="28.3" stroke="#8c8c8c" stroke-width="0.7"/>
<text x="343.80" y="171.90" font-family="Liberation Sans" class="s" font-size="5.6" text-anchor="middle" fill="#404040" color="#404040">WOA</text>
<line x1="361.40" y1="164.3" x2="361.40" y2="162.70000000000002" stroke="#8c8c8c" stroke-width="0.7"/>
<line x1="361.40" y1="26.7" x2="361.40" y2="28.3" stroke="#8c8c8c" stroke-width="0.7"/>
<text x="361.40" y="171.90" font-family="Liberation Sans" class="s" font-size="5.6" text-anchor="middle" fill="#404040" color="#404040">MPA</text>
<line x1="379.00" y1="164.3" x2="379.00" y2="162.70000000000002" stroke="#8c8c8c" stroke-width="0.7"/>
<line x1="379.00" y1="26.7" x2="379.00" y2="28.3" stroke="#8c8c8c" stroke-width="0.7"/>
<text x="379.00" y="171.90" font-family="Liberation Sans" class="s" font-size="5.6" text-anchor="middle" fill="#404040" color="#404040">LSA</text>
<line x1="396.60" y1="164.3" x2="396.60" y2="162.70000000000002" stroke="#8c8c8c" stroke-width="0.7"/>
<line x1="396.60" y1="26.7" x2="396.60" y2="28.3" stroke="#8c8c8c" stroke-width="0.7"/>
<text x="396.60" y="171.90" font-family="Liberation Sans" class="s" font-size="5.6" text-anchor="middle" fill="#404040" color="#404040">HGSO</text>
<line x1="414.20" y1="164.3" x2="414.20" y2="162.70000000000002" stroke="#8c8c8c" stroke-width="0.7"/>
<line x1="414.20" y1="26.7" x2="414.20" y2="28.3" stroke="#8c8c8c" stroke-width="0.7"/>
<text x="414.20" y="171.90" font-family="Liberation Sans" class="s" font-size="5.6" text-anchor="middle" fill="#404040" color="#404040">TSA</text>
<line x1="431.80" y1="164.3" x2="431.80" y2="162.70000000000002" stroke="#8c8c8c" stroke-width="0.7"/>
<line x1="431.80" y1="26.7" x2="431.80" y2="28.3" stroke="#8c8c8c" stroke-width="0.7"/>
<text x="431.80" y="171.90" font-family="Liberation Sans" class="s" font-size="5.6" text-anchor="middle" fill="#404040" color="#404040">TLTSA</text>
<line x1="265.0" y1="26.70" x2="266.6" y2="26.70" stroke="#8c8c8c" stroke-width="0.7"/>
<line x1="439.7" y1="26.70" x2="438.09999999999997" y2="26.70" stroke="#8c8c8c" stroke-width="0.7"/>
<text x="263.00" y="29.00" font-family="Liberation Sans" class="s" font-size="6.0" text-anchor="end" fill="#404040" color="#404040">0</text>
<line x1="265.0" y1="49.38" x2="266.6" y2="49.38" stroke="#8c8c8c" stroke-width="0.7"/>
<line x1="439.7" y1="49.38" x2="438.09999999999997" y2="49.38" stroke="#8c8c8c" stroke-width="0.7"/>
<text x="263.00" y="51.68" font-family="Liberation Sans" class="s" font-size="6.0" text-anchor="end" fill="#404040" color="#404040">-2</text>
<line x1="265.0" y1="72.06" x2="266.6" y2="72.06" stroke="#8c8c8c" stroke-width="0.7"/>
<line x1="439.7" y1="72.06" x2="438.09999999999997" y2="72.06" stroke="#8c8c8c" stroke-width="0.7"/>
<text x="263.00" y="74.36" font-family="Liberation Sans" class="s" font-size="6.0" text-anchor="end" fill="#404040" color="#404040">-4</text>
<line x1="265.0" y1="94.74" x2="266.6" y2="94.74" stroke="#8c8c8c" stroke-width="0.7"/>
<line x1="439.7" y1="94.74" x2="438.09999999999997" y2="94.74" stroke="#8c8c8c" stroke-width="0.7"/>
<text x="263.00" y="97.04" font-family="Liberation Sans" class="s" font-size="6.0" text-anchor="end" fill="#404040" color="#404040">-6</text>
<line x1="265.0" y1="117.42" x2="266.6" y2="117.42" stroke="#8c8c8c" stroke-width="0.7"/>
<line x1="439.7" y1="117.42" x2="438.09999999999997" y2="117.42" stroke="#8c8c8c" stroke-width="0.7"/>
<text x="263.00" y="119.72" font-family="Liberation Sans" class="s" font-size="6.0" text-anchor="end" fill="#404040" color="#404040">-8</text>
<line x1="265.0" y1="140.10" x2="266.6" y2="140.10" stroke="#8c8c8c" stroke-width="0.7"/>
<line x1="439.7" y1="140.10" x2="438.09999999999997" y2="140.10" stroke="#8c8c8c" stroke-width="0.7"/>
<text x="263.00" y="142.40" font-family="Liberation Sans" class="s" font-size="6.0" text-anchor="end" fill="#404040" color="#404040">-10</text>
<line x1="265.0" y1="162.78" x2="266.6" y2="162.78" stroke="#8c8c8c" stroke-width="0.7"/>
<line x1="439.7" y1="162.78" x2="438.09999999999997" y2="162.78" stroke="#8c8c8c" stroke-width="0.7"/>
<text x="263.00" y="165.08" font-family="Liberation Sans" class="s" font-size="6.0" text-anchor="end" fill="#404040" color="#404040">-12</text>
<text transform="translate(252.6 96.50) rotate(-90)" font-family="Liberation Sans" font-size="5.85" text-anchor="middle" fill="#383838" color="#383838" style="stroke-width:0.2">Best fitness obtained so far</text>
<line x1="268.70" y1="141.70" x2="278.10" y2="141.70" stroke="#ff6060" stroke-width="0.75"/>
<path d="M271.90 84.40H274.90M273.40 82.90V85.90" stroke="#ff3030" stroke-width="0.75"/>
<line x1="291.00" y1="32.70" x2="291.00" y2="37.20" stroke="#606060" stroke-width="0.65" stroke-dasharray="1 1.2"/>
<line x1="289.00" y1="32.70" x2="293.00" y2="32.70" stroke="#505050" stroke-width="0.6"/>
<line x1="291.00" y1="81.70" x2="291.00" y2="116.10" stroke="#606060" stroke-width="0.65" stroke-dasharray="1 1.2"/>
<line x1="289.00" y1="116.10" x2="293.00" y2="116.10" stroke="#505050" stroke-width="0.6"/>
<rect x="286.30" y="37.20" width="9.4" height="44.50" fill="none" stroke="#8585ff" stroke-width="0.8"/>
<line x1="286.30" y1="67.30" x2="295.70" y2="67.30" stroke="#ff6060" stroke-width="0.75"/>
<line x1="308.60" y1="56.80" x2="308.60" y2="84.40" stroke="#606060" stroke-width="0.65" stroke-dasharray="1 1.2"/>
<line x1="306.60" y1="56.80" x2="310.60" y2="56.80" stroke="#505050" stroke-width="0.6"/>
<rect x="303.90" y="84.40" width="9.4" height="57.30" fill="none" stroke="#8585ff" stroke-width="0.8"/>
<line x1="303.90" y1="141.70" x2="313.30" y2="141.70" stroke="#ff6060" stroke-width="0.75"/>
<rect x="321.50" y="37.00" width="9.4" height="46.70" fill="none" stroke="#8585ff" stroke-width="0.8"/>
<line x1="321.50" y1="83.70" x2="330.90" y2="83.70" stroke="#ff6060" stroke-width="0.75"/>
<line x1="343.80" y1="56.80" x2="343.80" y2="84.40" stroke="#606060" stroke-width="0.65" stroke-dasharray="1 1.2"/>
<line x1="341.80" y1="56.80" x2="345.80" y2="56.80" stroke="#505050" stroke-width="0.6"/>
<rect x="339.10" y="84.40" width="9.4" height="57.30" fill="none" stroke="#8585ff" stroke-width="0.8"/>
<line x1="339.10" y1="141.70" x2="348.50" y2="141.70" stroke="#ff6060" stroke-width="0.75"/>
<line x1="356.70" y1="141.80" x2="366.10" y2="141.80" stroke="#ff6060" stroke-width="0.75"/>
<path d="M359.90 141.80H362.90M361.40 140.30V143.30" stroke="#ff3030" stroke-width="0.75"/>
<line x1="379.00" y1="56.70" x2="379.00" y2="84.20" stroke="#606060" stroke-width="0.65" stroke-dasharray="1 1.2"/>
<line x1="377.00" y1="56.70" x2="381.00" y2="56.70" stroke="#505050" stroke-width="0.6"/>
<rect x="374.30" y="84.20" width="9.4" height="57.50" fill="none" stroke="#8585ff" stroke-width="0.8"/>
<line x1="374.30" y1="113.30" x2="383.70" y2="113.30" stroke="#ff6060" stroke-width="0.75"/>
<line x1="396.60" y1="54.70" x2="396.60" y2="65.00" stroke="#606060" stroke-width="0.65" stroke-dasharray="1 1.2"/>
<line x1="394.60" y1="54.70" x2="398.60" y2="54.70" stroke="#505050" stroke-width="0.6"/>
<line x1="396.60" y1="73.30" x2="396.60" y2="78.00" stroke="#606060" stroke-width="0.65" stroke-dasharray="1 1.2"/>
<line x1="394.60" y1="78.00" x2="398.60" y2="78.00" stroke="#505050" stroke-width="0.6"/>
<rect x="391.90" y="65.00" width="9.4" height="8.30" fill="none" stroke="#8585ff" stroke-width="0.8"/>
<line x1="391.90" y1="69.30" x2="401.30" y2="69.30" stroke="#ff6060" stroke-width="0.75"/>
<path d="M395.10 99.50H398.10M396.60 98.00V101.00" stroke="#ff3030" stroke-width="0.75"/>
<path d="M395.10 106.20H398.10M396.60 104.70V107.70" stroke="#ff3030" stroke-width="0.75"/>
<line x1="414.20" y1="56.70" x2="414.20" y2="81.30" stroke="#606060" stroke-width="0.65" stroke-dasharray="1 1.2"/>
<line x1="412.20" y1="56.70" x2="416.20" y2="56.70" stroke="#505050" stroke-width="0.6"/>
<line x1="414.20" y1="140.30" x2="414.20" y2="141.70" stroke="#606060" stroke-width="0.65" stroke-dasharray="1 1.2"/>
<line x1="412.20" y1="141.70" x2="416.20" y2="141.70" stroke="#505050" stroke-width="0.6"/>
<rect x="409.50" y="81.30" width="9.4" height="59.00" fill="none" stroke="#8585ff" stroke-width="0.8"/>
<line x1="409.50" y1="84.20" x2="418.90" y2="84.20" stroke="#ff6060" stroke-width="0.75"/>
<line x1="429.80" y1="84.20" x2="433.80" y2="84.20" stroke="#505050" stroke-width="0.6"/>
<rect x="427.10" y="84.20" width="9.4" height="57.50" fill="none" stroke="#8585ff" stroke-width="0.8"/>
<line x1="427.10" y1="141.70" x2="436.50" y2="141.70" stroke="#ff6060" stroke-width="0.75"/>
<text transform="translate(229.8 193.60) scale(1 1.12)" font-family="Liberation Serif" font-weight="bold" font-size="10.5" text-anchor="middle" fill="#111" color="#111">F35</text>
<rect x="264.7" y="209.2" width="174.60" height="137.70" fill="none" stroke="#8c8c8c" stroke-width="0.8"/>
<line x1="273.40" y1="346.9" x2="273.40" y2="345.29999999999995" stroke="#8c8c8c" stroke-width="0.7"/>
<line x1="273.40" y1="209.2" x2="273.40" y2="210.79999999999998" stroke="#8c8c8c" stroke-width="0.7"/>
<text x="273.40" y="354.50" font-family="Liberation Sans" class="s" font-size="5.6" text-anchor="middle" fill="#404040" color="#404040">GWO</text>
<line x1="291.00" y1="346.9" x2="291.00" y2="345.29999999999995" stroke="#8c8c8c" stroke-width="0.7"/>
<line x1="291.00" y1="209.2" x2="291.00" y2="210.79999999999998" stroke="#8c8c8c" stroke-width="0.7"/>
<text x="291.00" y="354.50" font-family="Liberation Sans" class="s" font-size="5.6" text-anchor="middle" fill="#404040" color="#404040">SCA</text>
<line x1="308.60" y1="346.9" x2="308.60" y2="345.29999999999995" stroke="#8c8c8c" stroke-width="0.7"/>
<line x1="308.60" y1="209.2" x2="308.60" y2="210.79999999999998" stroke="#8c8c8c" stroke-width="0.7"/>
<text x="308.60" y="354.50" font-family="Liberation Sans" class="s" font-size="5.6" text-anchor="middle" fill="#404040" color="#404040">SSA</text>
<line x1="326.20" y1="346.9" x2="326.20" y2="345.29999999999995" stroke="#8c8c8c" stroke-width="0.7"/>
<line x1="326.20" y1="209.2" x2="326.20" y2="210.79999999999998" stroke="#8c8c8c" stroke-width="0.7"/>
<text x="326.20" y="354.50" font-family="Liberation Sans" class="s" font-size="5.6" text-anchor="middle" fill="#404040" color="#404040">WCA</text>
<line x1="343.80" y1="346.9" x2="343.80" y2="345.29999999999995" stroke="#8c8c8c" stroke-width="0.7"/>
<line x1="343.80" y1="209.2" x2="343.80" y2="210.79999999999998" stroke="#8c8c8c" stroke-width="0.7"/>
<text x="343.80" y="354.50" font-family="Liberation Sans" class="s" font-size="5.6" text-anchor="middle" fill="#404040" color="#404040">WOA</text>
<line x1="361.40" y1="346.9" x2="361.40" y2="345.29999999999995" stroke="#8c8c8c" stroke-width="0.7"/>
<line x1="361.40" y1="209.2" x2="361.40" y2="210.79999999999998" stroke="#8c8c8c" stroke-width="0.7"/>
<text x="361.40" y="354.50" font-family="Liberation Sans" class="s" font-size="5.6" text-anchor="middle" fill="#404040" color="#404040">MPA</text>
<line x1="379.00" y1="346.9" x2="379.00" y2="345.29999999999995" stroke="#8c8c8c" stroke-width="0.7"/>
<line x1="379.00" y1="209.2" x2="379.00" y2="210.79999999999998" stroke="#8c8c8c" stroke-width="0.7"/>
<text x="379.00" y="354.50" font-family="Liberation Sans" class="s" font-size="5.6" text-anchor="middle" fill="#404040" color="#404040">LSA</text>
<line x1="396.60" y1="346.9" x2="396.60" y2="345.29999999999995" stroke="#8c8c8c" stroke-width="0.7"/>
<line x1="396.60" y1="209.2" x2="396.60" y2="210.79999999999998" stroke="#8c8c8c" stroke-width="0.7"/>
<text x="396.60" y="354.50" font-family="Liberation Sans" class="s" font-size="5.6" text-anchor="middle" fill="#404040" color="#404040">HGSO</text>
<line x1="414.20" y1="346.9" x2="414.20" y2="345.29999999999995" stroke="#8c8c8c" stroke-width="0.7"/>
<line x1="414.20" y1="209.2" x2="414.20" y2="210.79999999999998" stroke="#8c8c8c" stroke-width="0.7"/>
<text x="414.20" y="354.50" font-family="Liberation Sans" class="s" font-size="5.6" text-anchor="middle" fill="#404040" color="#404040">TSA</text>
<line x1="431.80" y1="346.9" x2="431.80" y2="345.29999999999995" stroke="#8c8c8c" stroke-width="0.7"/>
<line x1="431.80" y1="209.2" x2="431.80" y2="210.79999999999998" stroke="#8c8c8c" stroke-width="0.7"/>
<text x="431.80" y="354.50" font-family="Liberation Sans" class="s" font-size="5.6" text-anchor="middle" fill="#404040" color="#404040">TLTSA</text>
<line x1="264.7" y1="209.20" x2="266.3" y2="209.20" stroke="#8c8c8c" stroke-width="0.7"/>
<line x1="439.3" y1="209.20" x2="437.7" y2="209.20" stroke="#8c8c8c" stroke-width="0.7"/>
<text x="262.70" y="211.50" font-family="Liberation Sans" class="s" font-size="6.0" text-anchor="end" fill="#404040" color="#404040">0</text>
<line x1="264.7" y1="230.76" x2="266.3" y2="230.76" stroke="#8c8c8c" stroke-width="0.7"/>
<line x1="439.3" y1="230.76" x2="437.7" y2="230.76" stroke="#8c8c8c" stroke-width="0.7"/>
<text x="262.70" y="233.06" font-family="Liberation Sans" class="s" font-size="6.0" text-anchor="end" fill="#404040" color="#404040">-2</text>
<line x1="264.7" y1="252.32" x2="266.3" y2="252.32" stroke="#8c8c8c" stroke-width="0.7"/>
<line x1="439.3" y1="252.32" x2="437.7" y2="252.32" stroke="#8c8c8c" stroke-width="0.7"/>
<text x="262.70" y="254.62" font-family="Liberation Sans" class="s" font-size="6.0" text-anchor="end" fill="#404040" color="#404040">-4</text>
<line x1="264.7" y1="273.88" x2="266.3" y2="273.88" stroke="#8c8c8c" stroke-width="0.7"/>
<line x1="439.3" y1="273.88" x2="437.7" y2="273.88" stroke="#8c8c8c" stroke-width="0.7"/>
<text x="262.70" y="276.18" font-family="Liberation Sans" class="s" font-size="6.0" text-anchor="end" fill="#404040" color="#404040">-6</text>
<line x1="264.7" y1="295.44" x2="266.3" y2="295.44" stroke="#8c8c8c" stroke-width="0.7"/>
<line x1="439.3" y1="295.44" x2="437.7" y2="295.44" stroke="#8c8c8c" stroke-width="0.7"/>
<text x="262.70" y="297.74" font-family="Liberation Sans" class="s" font-size="6.0" text-anchor="end" fill="#404040" color="#404040">-8</text>
<line x1="264.7" y1="317.00" x2="266.3" y2="317.00" stroke="#8c8c8c" stroke-width="0.7"/>
<line x1="439.3" y1="317.00" x2="437.7" y2="317.00" stroke="#8c8c8c" stroke-width="0.7"/>
<text x="262.70" y="319.30" font-family="Liberation Sans" class="s" font-size="6.0" text-anchor="end" fill="#404040" color="#404040">-10</text>
<line x1="264.7" y1="338.56" x2="266.3" y2="338.56" stroke="#8c8c8c" stroke-width="0.7"/>
<line x1="439.3" y1="338.56" x2="437.7" y2="338.56" stroke="#8c8c8c" stroke-width="0.7"/>
<text x="262.70" y="340.86" font-family="Liberation Sans" class="s" font-size="6.0" text-anchor="end" fill="#404040" color="#404040">-12</text>
<text transform="translate(252.6 279.05) rotate(-90)" font-family="Liberation Sans" font-size="5.85" text-anchor="middle" fill="#383838" color="#383838" style="stroke-width:0.2">Best fitness obtained so far</text>
<line x1="268.70" y1="321.00" x2="278.10" y2="321.00" stroke="#ff6060" stroke-width="0.75"/>
<path d="M271.90 321.00H274.90M273.40 319.50V322.50" stroke="#ff3030" stroke-width="0.75"/>
<line x1="291.00" y1="215.20" x2="291.00" y2="219.70" stroke="#606060" stroke-width="0.65" stroke-dasharray="1 1.2"/>
<line x1="289.00" y1="215.20" x2="293.00" y2="215.20" stroke="#505050" stroke-width="0.6"/>
<line x1="291.00" y1="261.20" x2="291.00" y2="269.30" stroke="#606060" stroke-width="0.65" stroke-dasharray="1 1.2"/>
<line x1="289.00" y1="269.30" x2="293.00" y2="269.30" stroke="#505050" stroke-width="0.6"/>
<rect x="286.30" y="219.70" width="9.4" height="41.50" fill="none" stroke="#8585ff" stroke-width="0.8"/>
<line x1="286.30" y1="251.30" x2="295.70" y2="251.30" stroke="#ff6060" stroke-width="0.75"/>
<line x1="303.90" y1="321.00" x2="313.30" y2="321.00" stroke="#ff6060" stroke-width="0.75"/>
<path d="M307.10 239.10H310.10M308.60 237.60V240.60" stroke="#ff3030" stroke-width="0.75"/>
<path d="M307.10 249.30H310.10M308.60 247.80V250.80" stroke="#ff3030" stroke-width="0.75"/>
<path d="M307.10 264.50H310.10M308.60 263.00V266.00" stroke="#ff3030" stroke-width="0.75"/>
<line x1="326.20" y1="215.20" x2="326.20" y2="219.70" stroke="#606060" stroke-width="0.65" stroke-dasharray="1 1.2"/>
<line x1="324.20" y1="215.20" x2="328.20" y2="215.20" stroke="#505050" stroke-width="0.6"/>
<rect x="321.50" y="219.70" width="9.4" height="43.80" fill="none" stroke="#8585ff" stroke-width="0.8"/>
<line x1="321.50" y1="263.50" x2="330.90" y2="263.50" stroke="#ff6060" stroke-width="0.75"/>
<line x1="343.80" y1="229.50" x2="343.80" y2="249.60" stroke="#606060" stroke-width="0.65" stroke-dasharray="1 1.2"/>
<line x1="341.80" y1="229.50" x2="345.80" y2="229.50" stroke="#505050" stroke-width="0.6"/>
<rect x="339.10" y="249.60" width="9.4" height="70.90" fill="none" stroke="#8585ff" stroke-width="0.8"/>
<line x1="339.10" y1="320.50" x2="348.50" y2="320.50" stroke="#ff6060" stroke-width="0.75"/>
<line x1="356.70" y1="321.00" x2="366.10" y2="321.00" stroke="#ff6060" stroke-width="0.75"/>
<path d="M359.90 321.00H362.90M361.40 319.50V322.50" stroke="#ff3030" stroke-width="0.75"/>
<line x1="379.00" y1="239.30" x2="379.00" y2="249.60" stroke="#606060" stroke-width="0.65" stroke-dasharray="1 1.2"/>
<line x1="377.00" y1="239.30" x2="381.00" y2="239.30" stroke="#505050" stroke-width="0.6"/>
<rect x="374.30" y="249.60" width="9.4" height="71.60" fill="none" stroke="#8585ff" stroke-width="0.8"/>
<line x1="374.30" y1="264.60" x2="383.70" y2="264.60" stroke="#ff6060" stroke-width="0.75"/>
<line x1="396.60" y1="243.00" x2="396.60" y2="245.90" stroke="#606060" stroke-width="0.65" stroke-dasharray="1 1.2"/>
<line x1="394.60" y1="243.00" x2="398.60" y2="243.00" stroke="#505050" stroke-width="0.6"/>
<line x1="396.60" y1="255.20" x2="396.60" y2="265.80" stroke="#606060" stroke-width="0.65" stroke-dasharray="1 1.2"/>
<line x1="394.60" y1="265.80" x2="398.60" y2="265.80" stroke="#505050" stroke-width="0.6"/>
<rect x="391.90" y="245.90" width="9.4" height="9.30" fill="none" stroke="#8585ff" stroke-width="0.8"/>
<line x1="391.90" y1="251.60" x2="401.30" y2="251.60" stroke="#ff6060" stroke-width="0.75"/>
<line x1="414.20" y1="229.50" x2="414.20" y2="239.30" stroke="#606060" stroke-width="0.65" stroke-dasharray="1 1.2"/>
<line x1="412.20" y1="229.50" x2="416.20" y2="229.50" stroke="#505050" stroke-width="0.6"/>
<line x1="414.20" y1="304.60" x2="414.20" y2="320.50" stroke="#606060" stroke-width="0.65" stroke-dasharray="1 1.2"/>
<line x1="412.20" y1="320.50" x2="416.20" y2="320.50" stroke="#505050" stroke-width="0.6"/>
<rect x="409.50" y="239.30" width="9.4" height="65.30" fill="none" stroke="#8585ff" stroke-width="0.8"/>
<line x1="409.50" y1="263.30" x2="418.90" y2="263.30" stroke="#ff6060" stroke-width="0.75"/>
<line x1="427.10" y1="321.00" x2="436.50" y2="321.00" stroke="#ff6060" stroke-width="0.75"/>
<path d="M430.30 264.30H433.30M431.80 262.80V265.80" stroke="#ff3030" stroke-width="0.75"/>
<text transform="translate(229.8 376.30) scale(1 1.12)" font-family="Liberation Serif" font-weight="bold" font-size="10.5" text-anchor="middle" fill="#111" color="#111">F36</text>
<rect x="264.7" y="391.8" width="174.60" height="138.20" fill="none" stroke="#8c8c8c" stroke-width="0.8"/>
<line x1="273.40" y1="530.0" x2="273.40" y2="528.4" stroke="#8c8c8c" stroke-width="0.7"/>
<line x1="273.40" y1="391.8" x2="273.40" y2="393.40000000000003" stroke="#8c8c8c" stroke-width="0.7"/>
<text x="273.40" y="537.60" font-family="Liberation Sans" class="s" font-size="5.6" text-anchor="middle" fill="#404040" color="#404040">GWO</text>
<line x1="291.00" y1="530.0" x2="291.00" y2="528.4" stroke="#8c8c8c" stroke-width="0.7"/>
<line x1="291.00" y1="391.8" x2="291.00" y2="393.40000000000003" stroke="#8c8c8c" stroke-width="0.7"/>
<text x="291.00" y="537.60" font-family="Liberation Sans" class="s" font-size="5.6" text-anchor="middle" fill="#404040" color="#404040">SCA</text>
<line x1="308.60" y1="530.0" x2="308.60" y2="528.4" stroke="#8c8c8c" stroke-width="0.7"/>
<line x1="308.60" y1="391.8" x2="308.60" y2="393.40000000000003" stroke="#8c8c8c" stroke-width="0.7"/>
<text x="308.60" y="537.60" font-family="Liberation Sans" class="s" font-size="5.6" text-anchor="middle" fill="#404040" color="#404040">SSA</text>
<line x1="326.20" y1="530.0" x2="326.20" y2="528.4" stroke="#8c8c8c" stroke-width="0.7"/>
<line x1="326.20" y1="391.8" x2="326.20" y2="393.40000000000003" stroke="#8c8c8c" stroke-width="0.7"/>
<text x="326.20" y="537.60" font-family="Liberation Sans" class="s" font-size="5.6" text-anchor="middle" fill="#404040" color="#404040">WCA</text>
<line x1="343.80" y1="530.0" x2="343.80" y2="528.4" stroke="#8c8c8c" stroke-width="0.7"/>
<line x1="343.80" y1="391.8" x2="343.80" y2="393.40000000000003" stroke="#8c8c8c" stroke-width="0.7"/>
<text x="343.80" y="537.60" font-family="Liberation Sans" class="s" font-size="5.6" text-anchor="middle" fill="#404040" color="#404040">WOA</text>
<line x1="361.40" y1="530.0" x2="361.40" y2="528.4" stroke="#8c8c8c" stroke-width="0.7"/>
<line x1="361.40" y1="391.8" x2="361.40" y2="393.40000000000003" stroke="#8c8c8c" stroke-width="0.7"/>
<text x="361.40" y="537.60" font-family="Liberation Sans" class="s" font-size="5.6" text-anchor="middle" fill="#404040" color="#404040">MPA</text>
<line x1="379.00" y1="530.0" x2="379.00" y2="528.4" stroke="#8c8c8c" stroke-width="0.7"/>
<line x1="379.00" y1="391.8" x2="379.00" y2="393.40000000000003" stroke="#8c8c8c" stroke-width="0.7"/>
<text x="379.00" y="537.60" font-family="Liberation Sans" class="s" font-size="5.6" text-anchor="middle" fill="#404040" color="#404040">LSA</text>
<line x1="396.60" y1="530.0" x2="396.60" y2="528.4" stroke="#8c8c8c" stroke-width="0.7"/>
<line x1="396.60" y1="391.8" x2="396.60" y2="393.40000000000003" stroke="#8c8c8c" stroke-width="0.7"/>
<text x="396.60" y="537.60" font-family="Liberation Sans" class="s" font-size="5.6" text-anchor="middle" fill="#404040" color="#404040">HGSO</text>
<line x1="414.20" y1="530.0" x2="414.20" y2="528.4" stroke="#8c8c8c" stroke-width="0.7"/>
<line x1="414.20" y1="391.8" x2="414.20" y2="393.40000000000003" stroke="#8c8c8c" stroke-width="0.7"/>
<text x="414.20" y="537.60" font-family="Liberation Sans" class="s" font-size="5.6" text-anchor="middle" fill="#404040" color="#404040">TSA</text>
<line x1="431.80" y1="530.0" x2="431.80" y2="528.4" stroke="#8c8c8c" stroke-width="0.7"/>
<line x1="431.80" y1="391.8" x2="431.80" y2="393.40000000000003" stroke="#8c8c8c" stroke-width="0.7"/>
<text x="431.80" y="537.60" font-family="Liberation Sans" class="s" font-size="5.6" text-anchor="middle" fill="#404040" color="#404040">TLTSA</text>
<line x1="264.7" y1="410.28" x2="266.3" y2="410.28" stroke="#8c8c8c" stroke-width="0.7"/>
<line x1="439.3" y1="410.28" x2="437.7" y2="410.28" stroke="#8c8c8c" stroke-width="0.7"/>
<text x="262.70" y="412.58" font-family="Liberation Sans" class="s" font-size="6.0" text-anchor="end" fill="#404040" color="#404040">-2</text>
<line x1="264.7" y1="432.76" x2="266.3" y2="432.76" stroke="#8c8c8c" stroke-width="0.7"/>
<line x1="439.3" y1="432.76" x2="437.7" y2="432.76" stroke="#8c8c8c" stroke-width="0.7"/>
<text x="262.70" y="435.06" font-family="Liberation Sans" class="s" font-size="6.0" text-anchor="end" fill="#404040" color="#404040">-4</text>
<line x1="264.7" y1="455.24" x2="266.3" y2="455.24" stroke="#8c8c8c" stroke-width="0.7"/>
<line x1="439.3" y1="455.24" x2="437.7" y2="455.24" stroke="#8c8c8c" stroke-width="0.7"/>
<text x="262.70" y="457.54" font-family="Liberation Sans" class="s" font-size="6.0" text-anchor="end" fill="#404040" color="#404040">-6</text>
<line x1="264.7" y1="477.72" x2="266.3" y2="477.72" stroke="#8c8c8c" stroke-width="0.7"/>
<line x1="439.3" y1="477.72" x2="437.7" y2="477.72" stroke="#8c8c8c" stroke-width="0.7"/>
<text x="262.70" y="480.02" font-family="Liberation Sans" class="s" font-size="6.0" text-anchor="end" fill="#404040" color="#404040">-8</text>
<line x1="264.7" y1="500.20" x2="266.3" y2="500.20" stroke="#8c8c8c" stroke-width="0.7"/>
<line x1="439.3" y1="500.20" x2="437.7" y2="500.20" stroke="#8c8c8c" stroke-width="0.7"/>
<text x="262.70" y="502.50" font-family="Liberation Sans" class="s" font-size="6.0" text-anchor="end" fill="#404040" color="#404040">-10</text>
<line x1="264.7" y1="522.68" x2="266.3" y2="522.68" stroke="#8c8c8c" stroke-width="0.7"/>
<line x1="439.3" y1="522.68" x2="437.7" y2="522.68" stroke="#8c8c8c" stroke-width="0.7"/>
<text x="262.70" y="524.98" font-family="Liberation Sans" class="s" font-size="6.0" text-anchor="end" fill="#404040" color="#404040">-12</text>
<text transform="translate(252.6 460.60) rotate(-90)" font-family="Liberation Sans" font-size="5.85" text-anchor="middle" fill="#383838" color="#383838" style="stroke-width:0.2">Best fitness obtained so far</text>
<line x1="268.70" y1="505.90" x2="278.10" y2="505.90" stroke="#ff6060" stroke-width="0.75"/>
<path d="M271.90 414.40H274.90M273.40 412.90V415.90" stroke="#ff3030" stroke-width="0.75"/>
<path d="M271.90 445.20H274.90M273.40 443.70V446.70" stroke="#ff3030" stroke-width="0.75"/>
<line x1="291.00" y1="408.70" x2="291.00" y2="427.20" stroke="#606060" stroke-width="0.65" stroke-dasharray="1 1.2"/>
<line x1="289.00" y1="408.70" x2="293.00" y2="408.70" stroke="#505050" stroke-width="0.6"/>
<line x1="291.00" y1="444.40" x2="291.00" y2="468.10" stroke="#606060" stroke-width="0.65" stroke-dasharray="1 1.2"/>
<line x1="289.00" y1="468.10" x2="293.00" y2="468.10" stroke="#505050" stroke-width="0.6"/>
<rect x="286.30" y="427.20" width="9.4" height="17.20" fill="none" stroke="#8585ff" stroke-width="0.8"/>
<line x1="286.30" y1="439.30" x2="295.70" y2="439.30" stroke="#ff6060" stroke-width="0.75"/>
<path d="M289.50 398.20H292.50M291.00 396.70V399.70" stroke="#ff3030" stroke-width="0.75"/>
<path d="M289.50 484.30H292.50M291.00 482.80V485.80" stroke="#ff3030" stroke-width="0.75"/>
<rect x="303.90" y="443.90" width="9.4" height="1.00" fill="#3030a0" stroke="#5050c0" stroke-width="0.6"/>
<line x1="303.90" y1="444.40" x2="313.30" y2="444.40" stroke="#ff6060" stroke-width="0.75"/>
<path d="M307.10 398.20H310.10M308.60 396.70V399.70" stroke="#ff3030" stroke-width="0.75"/>
<path d="M307.10 425.10H310.10M308.60 423.60V426.60" stroke="#ff3030" stroke-width="0.75"/>
<path d="M307.10 442.40H310.10M308.60 440.90V443.90" stroke="#ff3030" stroke-width="0.75"/>
<path d="M307.10 483.00H310.10M308.60 481.50V484.50" stroke="#ff3030" stroke-width="0.75"/>
<path d="M307.10 487.40H310.10M308.60 485.90V488.90" stroke="#ff3030" stroke-width="0.75"/>
<path d="M307.10 492.40H310.10M308.60 490.90V493.90" stroke="#ff3030" stroke-width="0.75"/>
<line x1="321.50" y1="505.90" x2="330.90" y2="505.90" stroke="#ff6060" stroke-width="0.75"/>
<path d="M324.70 430.60H327.70M326.20 429.10V432.10" stroke="#ff3030" stroke-width="0.75"/>
<path d="M324.70 445.20H327.70M326.20 443.70V446.70" stroke="#ff3030" stroke-width="0.75"/>
<line x1="343.80" y1="406.60" x2="343.80" y2="444.70" stroke="#606060" stroke-width="0.65" stroke-dasharray="1 1.2"/>
<line x1="341.80" y1="406.60" x2="345.80" y2="406.60" stroke="#505050" stroke-width="0.6"/>
<rect x="339.10" y="444.70" width="9.4" height="61.20" fill="none" stroke="#8585ff" stroke-width="0.8"/>
<line x1="339.10" y1="505.90" x2="348.50" y2="505.90" stroke="#ff6060" stroke-width="0.75"/>
<line x1="356.70" y1="505.90" x2="366.10" y2="505.90" stroke="#ff6060" stroke-width="0.75"/>
<path d="M359.90 505.90H362.90M361.40 504.40V507.40" stroke="#ff3030" stroke-width="0.75"/>
<line x1="379.00" y1="415.00" x2="379.00" y2="444.70" stroke="#606060" stroke-width="0.65" stroke-dasharray="1 1.2"/>
<line x1="377.00" y1="415.00" x2="381.00" y2="415.00" stroke="#505050" stroke-width="0.6"/>
<rect x="374.30" y="444.70" width="9.4" height="61.20" fill="none" stroke="#8585ff" stroke-width="0.8"/>
<line x1="374.30" y1="505.90" x2="383.70" y2="505.90" stroke="#ff6060" stroke-width="0.75"/>
<line x1="396.60" y1="420.10" x2="396.60" y2="424.30" stroke="#606060" stroke-width="0.65" stroke-dasharray="1 1.2"/>
<line x1="394.60" y1="420.10" x2="398.60" y2="420.10" stroke="#505050" stroke-width="0.6"/>
<line x1="396.60" y1="436.60" x2="396.60" y2="442.70" stroke="#606060" stroke-width="0.65" stroke-dasharray="1 1.2"/>
<line x1="394.60" y1="442.70" x2="398.60" y2="442.70" stroke="#505050" stroke-width="0.6"/>
<rect x="391.90" y="424.30" width="9.4" height="12.30" fill="none" stroke="#8585ff" stroke-width="0.8"/>
<line x1="391.90" y1="430.40" x2="401.30" y2="430.40" stroke="#ff6060" stroke-width="0.75"/>
<path d="M395.10 472.30H398.10M396.60 470.80V473.80" stroke="#ff3030" stroke-width="0.75"/>
<line x1="414.20" y1="414.50" x2="414.20" y2="418.60" stroke="#606060" stroke-width="0.65" stroke-dasharray="1 1.2"/>
<line x1="412.20" y1="414.50" x2="416.20" y2="414.50" stroke="#505050" stroke-width="0.6"/>
<line x1="414.20" y1="503.50" x2="414.20" y2="505.90" stroke="#606060" stroke-width="0.65" stroke-dasharray="1 1.2"/>
<line x1="412.20" y1="505.90" x2="416.20" y2="505.90" stroke="#505050" stroke-width="0.6"/>
<rect x="409.50" y="418.60" width="9.4" height="84.90" fill="none" stroke="#8585ff" stroke-width="0.8"/>
<line x1="409.50" y1="425.00" x2="418.90" y2="425.00" stroke="#ff6060" stroke-width="0.75"/>
<line x1="427.10" y1="505.90" x2="436.50" y2="505.90" stroke="#ff6060" stroke-width="0.75"/>
<path d="M430.30 414.50H433.30M431.80 413.00V416.00" stroke="#ff3030" stroke-width="0.75"/>
<path d="M430.30 419.40H433.30M431.80 417.90V420.90" stroke="#ff3030" stroke-width="0.75"/>
<path d="M430.30 445.20H433.30M431.80 443.70V446.70" stroke="#ff3030" stroke-width="0.75"/>
</g>
</svg>
</body></html>
